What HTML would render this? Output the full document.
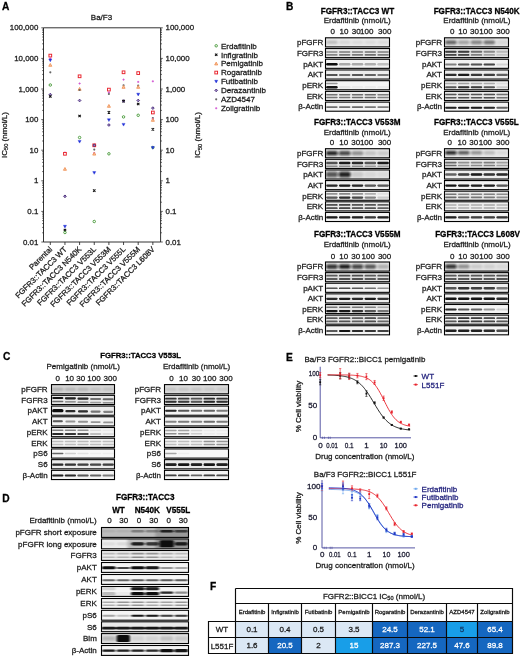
<!DOCTYPE html>
<html lang="en">
<head>
<meta charset="utf-8">
<title>Figure</title>
<style>
html,body{margin:0;padding:0;background:#fff;}
body{width:520px;height:657px;overflow:hidden;}
svg{display:block;font-family:"Liberation Sans",Arial,Helvetica,sans-serif;}
text{stroke-width:0.27px;}
</style>
</head>
<body>
<svg width="520" height="657" viewBox="0 0 520 657">
<defs>
<filter id="b1" x="-20%" y="-50%" width="140%" height="200%"><feGaussianBlur stdDeviation="0.75 0.5"/></filter>
<filter id="b2" x="-20%" y="-50%" width="140%" height="200%"><feGaussianBlur stdDeviation="1.3 0.9"/></filter>
<filter id="b15" x="-20%" y="-50%" width="140%" height="200%"><feGaussianBlur stdDeviation="1.0 0.65"/></filter>
<filter id="b3" x="-20%" y="-50%" width="140%" height="200%"><feGaussianBlur stdDeviation="1.4"/></filter>
<filter id="soft"><feGaussianBlur stdDeviation="0.25"/></filter>
</defs>
<rect x="0" y="0" width="520" height="657" fill="#ffffff"/>
<g id="panelA">
<text x="1.90" y="9.80" font-size="10.2" text-anchor="start" font-weight="bold" fill="#000" stroke="#000"  stroke-width="0.15">A</text>
<text x="101.50" y="19.60" font-size="8" text-anchor="middle" font-weight="normal" fill="#1a1a1a" stroke="#1a1a1a" >Ba/F3</text>
<path d="M43.5 242.0V27.8H160.6V242.0H43.5" fill="none" stroke="#1c1c1c" stroke-width="0.9"/>
<path d="M41.30 27.80H43.50M160.60 27.80H162.80M42.20 49.19H43.50M160.60 49.19H161.90M42.20 43.80H43.50M160.60 43.80H161.90M42.20 39.98H43.50M160.60 39.98H161.90M42.20 37.01H43.50M160.60 37.01H161.90M42.20 34.59H43.50M160.60 34.59H161.90M42.20 32.54H43.50M160.60 32.54H161.90M42.20 30.77H43.50M160.60 30.77H161.90M42.20 29.20H43.50M160.60 29.20H161.90M41.30 58.40H43.50M160.60 58.40H162.80M42.20 79.79H43.50M160.60 79.79H161.90M42.20 74.40H43.50M160.60 74.40H161.90M42.20 70.58H43.50M160.60 70.58H161.90M42.20 67.61H43.50M160.60 67.61H161.90M42.20 65.19H43.50M160.60 65.19H161.90M42.20 63.14H43.50M160.60 63.14H161.90M42.20 61.37H43.50M160.60 61.37H161.90M42.20 59.80H43.50M160.60 59.80H161.90M41.30 89.00H43.50M160.60 89.00H162.80M42.20 110.39H43.50M160.60 110.39H161.90M42.20 105.00H43.50M160.60 105.00H161.90M42.20 101.18H43.50M160.60 101.18H161.90M42.20 98.21H43.50M160.60 98.21H161.90M42.20 95.79H43.50M160.60 95.79H161.90M42.20 93.74H43.50M160.60 93.74H161.90M42.20 91.97H43.50M160.60 91.97H161.90M42.20 90.40H43.50M160.60 90.40H161.90M41.30 119.60H43.50M160.60 119.60H162.80M42.20 140.99H43.50M160.60 140.99H161.90M42.20 135.60H43.50M160.60 135.60H161.90M42.20 131.78H43.50M160.60 131.78H161.90M42.20 128.81H43.50M160.60 128.81H161.90M42.20 126.39H43.50M160.60 126.39H161.90M42.20 124.34H43.50M160.60 124.34H161.90M42.20 122.57H43.50M160.60 122.57H161.90M42.20 121.00H43.50M160.60 121.00H161.90M41.30 150.20H43.50M160.60 150.20H162.80M42.20 171.59H43.50M160.60 171.59H161.90M42.20 166.20H43.50M160.60 166.20H161.90M42.20 162.38H43.50M160.60 162.38H161.90M42.20 159.41H43.50M160.60 159.41H161.90M42.20 156.99H43.50M160.60 156.99H161.90M42.20 154.94H43.50M160.60 154.94H161.90M42.20 153.17H43.50M160.60 153.17H161.90M42.20 151.60H43.50M160.60 151.60H161.90M41.30 180.80H43.50M160.60 180.80H162.80M42.20 202.19H43.50M160.60 202.19H161.90M42.20 196.80H43.50M160.60 196.80H161.90M42.20 192.98H43.50M160.60 192.98H161.90M42.20 190.01H43.50M160.60 190.01H161.90M42.20 187.59H43.50M160.60 187.59H161.90M42.20 185.54H43.50M160.60 185.54H161.90M42.20 183.77H43.50M160.60 183.77H161.90M42.20 182.20H43.50M160.60 182.20H161.90M41.30 211.40H43.50M160.60 211.40H162.80M42.20 232.79H43.50M160.60 232.79H161.90M42.20 227.40H43.50M160.60 227.40H161.90M42.20 223.58H43.50M160.60 223.58H161.90M42.20 220.61H43.50M160.60 220.61H161.90M42.20 218.19H43.50M160.60 218.19H161.90M42.20 216.14H43.50M160.60 216.14H161.90M42.20 214.37H43.50M160.60 214.37H161.90M42.20 212.80H43.50M160.60 212.80H161.90M41.30 242.00H43.50M160.60 242.00H162.80" stroke="#1c1c1c" stroke-width="0.7" fill="none"/>
<text x="38.30" y="30.40" font-size="7.9" text-anchor="end" font-weight="normal" fill="#1a1a1a" stroke="#1a1a1a" >100,000</text>
<text x="165.50" y="30.40" font-size="7.9" text-anchor="start" font-weight="normal" fill="#1a1a1a" stroke="#1a1a1a" >100,000</text>
<text x="38.30" y="61.00" font-size="7.9" text-anchor="end" font-weight="normal" fill="#1a1a1a" stroke="#1a1a1a" >10,000</text>
<text x="165.50" y="61.00" font-size="7.9" text-anchor="start" font-weight="normal" fill="#1a1a1a" stroke="#1a1a1a" >10,000</text>
<text x="38.30" y="91.60" font-size="7.9" text-anchor="end" font-weight="normal" fill="#1a1a1a" stroke="#1a1a1a" >1,000</text>
<text x="165.50" y="91.60" font-size="7.9" text-anchor="start" font-weight="normal" fill="#1a1a1a" stroke="#1a1a1a" >1,000</text>
<text x="38.30" y="122.20" font-size="7.9" text-anchor="end" font-weight="normal" fill="#1a1a1a" stroke="#1a1a1a" >100</text>
<text x="165.50" y="122.20" font-size="7.9" text-anchor="start" font-weight="normal" fill="#1a1a1a" stroke="#1a1a1a" >100</text>
<text x="38.30" y="152.80" font-size="7.9" text-anchor="end" font-weight="normal" fill="#1a1a1a" stroke="#1a1a1a" >10</text>
<text x="165.50" y="152.80" font-size="7.9" text-anchor="start" font-weight="normal" fill="#1a1a1a" stroke="#1a1a1a" >10</text>
<text x="38.30" y="183.40" font-size="7.9" text-anchor="end" font-weight="normal" fill="#1a1a1a" stroke="#1a1a1a" >1</text>
<text x="165.50" y="183.40" font-size="7.9" text-anchor="start" font-weight="normal" fill="#1a1a1a" stroke="#1a1a1a" >1</text>
<text x="38.30" y="214.00" font-size="7.9" text-anchor="end" font-weight="normal" fill="#1a1a1a" stroke="#1a1a1a" >0.1</text>
<text x="165.50" y="214.00" font-size="7.9" text-anchor="start" font-weight="normal" fill="#1a1a1a" stroke="#1a1a1a" >0.1</text>
<text x="38.30" y="244.60" font-size="7.9" text-anchor="end" font-weight="normal" fill="#1a1a1a" stroke="#1a1a1a" >0.01</text>
<text x="165.50" y="244.60" font-size="7.9" text-anchor="start" font-weight="normal" fill="#1a1a1a" stroke="#1a1a1a" >0.01</text>
<text transform="translate(52.70 249.80) rotate(-45)" font-size="7.8" text-anchor="end" fill="#1a1a1a" stroke="#1a1a1a">Parental</text>
<text transform="translate(67.35 249.80) rotate(-45)" font-size="7.8" text-anchor="end" fill="#1a1a1a" stroke="#1a1a1a">FGFR3::TACC3 WT</text>
<text transform="translate(82.00 249.80) rotate(-45)" font-size="7.8" text-anchor="end" fill="#1a1a1a" stroke="#1a1a1a">FGFR3::TACC3 N540K</text>
<text transform="translate(96.65 249.80) rotate(-45)" font-size="7.8" text-anchor="end" fill="#1a1a1a" stroke="#1a1a1a">FGFR3::TACC3 V553L</text>
<text transform="translate(111.30 249.80) rotate(-45)" font-size="7.8" text-anchor="end" fill="#1a1a1a" stroke="#1a1a1a">FGFR3::TACC3 V553M</text>
<text transform="translate(125.95 249.80) rotate(-45)" font-size="7.8" text-anchor="end" fill="#1a1a1a" stroke="#1a1a1a">FGFR3::TACC3 V555L</text>
<text transform="translate(140.60 249.80) rotate(-45)" font-size="7.8" text-anchor="end" fill="#1a1a1a" stroke="#1a1a1a">FGFR3::TACC3 V555M</text>
<text transform="translate(155.25 249.80) rotate(-45)" font-size="7.8" text-anchor="end" fill="#1a1a1a" stroke="#1a1a1a">FGFR3::TACC3 L608V</text>
<path d="M50.30 242.0v3M64.95 242.0v3M79.60 242.0v3M94.25 242.0v3M108.90 242.0v3M123.55 242.0v3M138.20 242.0v3M152.85 242.0v3" stroke="#1c1c1c" stroke-width="0.8" fill="none"/>
<text transform="translate(6.7 135.0) rotate(-90)" font-size="8" text-anchor="middle" fill="#1a1a1a" stroke="#1a1a1a">IC<tspan font-size="5.6" dy="1.6">50</tspan><tspan dy="-1.6"> (nmol/L)</tspan></text>
<text transform="translate(200.1 135.1) rotate(-90)" font-size="8" text-anchor="middle" fill="#1a1a1a" stroke="#1a1a1a">IC<tspan font-size="5.6" dy="1.6">50</tspan><tspan dy="-1.6"> (nmol/L)</tspan></text>
<path d="M49.26 58.50H51.34M50.30 57.46V59.54" stroke="#d050d0" stroke-width="0.9" fill="none"/>
<rect x="48.94" y="54.24" width="2.72" height="2.72" fill="#fff" stroke="#e8202a" stroke-width="0.95"/>
<path d="M48.78 59.08H51.82L50.30 61.82Z" fill="#2030d8" stroke="#2030d8" stroke-width="0.4"/>
<path d="M50.30 63.48L51.82 66.29H48.78Z" fill="#f6c9a4" stroke="#f08a4b" stroke-width="0.8"/>
<circle cx="50.30" cy="72.30" r="1.08" fill="#666666"/>
<circle cx="50.30" cy="85.00" r="1.24" fill="none" stroke="#2e8b1e" stroke-width="0.8"/>
<path d="M50.30 93.24L51.66 94.60L50.30 95.96L48.94 94.60Z" fill="#9a86c0" stroke="#3a1a6e" stroke-width="0.8"/>
<path d="M49.10 95.30L51.50 97.70M49.10 97.70L51.50 95.30" stroke="#111111" stroke-width="1.1" fill="none"/>
<path d="M63.91 152.60H65.99M64.95 151.56V153.64" stroke="#d050d0" stroke-width="0.9" fill="none"/>
<rect x="63.59" y="152.44" width="2.72" height="2.72" fill="#fff" stroke="#e8202a" stroke-width="0.95"/>
<path d="M64.95 167.48L66.47 170.29H63.43Z" fill="#f6c9a4" stroke="#f08a4b" stroke-width="0.8"/>
<circle cx="64.95" cy="196.30" r="1.08" fill="#666666"/>
<path d="M64.95 194.94L66.31 196.30L64.95 197.66L63.59 196.30Z" fill="#9a86c0" stroke="#3a1a6e" stroke-width="0.8"/>
<path d="M63.43 225.28H66.47L64.95 228.02Z" fill="#2030d8" stroke="#2030d8" stroke-width="0.4"/>
<path d="M63.75 228.80L66.15 231.20M63.75 231.20L66.15 228.80" stroke="#111111" stroke-width="1.1" fill="none"/>
<circle cx="64.95" cy="232.50" r="1.24" fill="none" stroke="#2e8b1e" stroke-width="0.8"/>
<rect x="78.24" y="74.94" width="2.72" height="2.72" fill="#fff" stroke="#e8202a" stroke-width="0.95"/>
<path d="M78.56 83.50H80.64M79.60 82.46V84.54" stroke="#d050d0" stroke-width="0.9" fill="none"/>
<path d="M79.60 87.48L81.12 90.29H78.08Z" fill="#f6c9a4" stroke="#f08a4b" stroke-width="0.8"/>
<circle cx="79.60" cy="90.00" r="1.08" fill="#666666"/>
<path d="M79.60 99.14L80.96 100.50L79.60 101.86L78.24 100.50Z" fill="#9a86c0" stroke="#3a1a6e" stroke-width="0.8"/>
<path d="M78.40 114.80L80.80 117.20M78.40 117.20L80.80 114.80" stroke="#111111" stroke-width="1.1" fill="none"/>
<circle cx="79.60" cy="137.50" r="1.24" fill="none" stroke="#2e8b1e" stroke-width="0.8"/>
<path d="M78.08 140.38H81.12L79.60 143.12Z" fill="#2030d8" stroke="#2030d8" stroke-width="0.4"/>
<rect x="92.89" y="143.94" width="2.72" height="2.72" fill="#fff" stroke="#e8202a" stroke-width="0.95"/>
<circle cx="94.25" cy="149.60" r="1.08" fill="#666666"/>
<path d="M93.21 153.00H95.29M94.25 151.96V154.04" stroke="#d050d0" stroke-width="0.9" fill="none"/>
<path d="M94.25 152.28L95.77 155.09H92.73Z" fill="#f6c9a4" stroke="#f08a4b" stroke-width="0.8"/>
<path d="M94.25 143.94L95.61 145.30L94.25 146.66L92.89 145.30Z" fill="#9a86c0" stroke="#3a1a6e" stroke-width="0.8"/>
<path d="M92.73 171.58H95.77L94.25 174.32Z" fill="#2030d8" stroke="#2030d8" stroke-width="0.4"/>
<path d="M93.05 189.40L95.45 191.80M93.05 191.80L95.45 189.40" stroke="#111111" stroke-width="1.1" fill="none"/>
<circle cx="94.25" cy="221.50" r="1.24" fill="none" stroke="#2e8b1e" stroke-width="0.8"/>
<rect x="107.54" y="88.24" width="2.72" height="2.72" fill="#fff" stroke="#e8202a" stroke-width="0.95"/>
<path d="M107.86 92.50H109.94M108.90 91.46V93.54" stroke="#d050d0" stroke-width="0.9" fill="none"/>
<circle cx="108.90" cy="94.00" r="1.08" fill="#666666"/>
<path d="M108.90 104.48L110.42 107.29H107.38Z" fill="#f6c9a4" stroke="#f08a4b" stroke-width="0.8"/>
<path d="M107.70 111.10L110.10 113.50M107.70 113.50L110.10 111.10" stroke="#111111" stroke-width="1.1" fill="none"/>
<path d="M107.38 118.78H110.42L108.90 121.52Z" fill="#2030d8" stroke="#2030d8" stroke-width="0.4"/>
<path d="M108.90 123.64L110.26 125.00L108.90 126.36L107.54 125.00Z" fill="#9a86c0" stroke="#3a1a6e" stroke-width="0.8"/>
<circle cx="108.90" cy="153.80" r="1.24" fill="none" stroke="#2e8b1e" stroke-width="0.8"/>
<rect x="122.19" y="70.94" width="2.72" height="2.72" fill="#fff" stroke="#e8202a" stroke-width="0.95"/>
<path d="M122.51 79.60H124.59M123.55 78.56V80.64" stroke="#d050d0" stroke-width="0.9" fill="none"/>
<circle cx="123.55" cy="85.30" r="1.08" fill="#666666"/>
<path d="M123.55 85.48L125.07 88.29H122.03Z" fill="#f6c9a4" stroke="#f08a4b" stroke-width="0.8"/>
<path d="M123.55 99.64L124.91 101.00L123.55 102.36L122.19 101.00Z" fill="#9a86c0" stroke="#3a1a6e" stroke-width="0.8"/>
<path d="M122.35 100.00L124.75 102.40M122.35 102.40L124.75 100.00" stroke="#111111" stroke-width="1.1" fill="none"/>
<circle cx="123.55" cy="116.90" r="1.24" fill="none" stroke="#2e8b1e" stroke-width="0.8"/>
<path d="M122.03 123.38H125.07L123.55 126.12Z" fill="#2030d8" stroke="#2030d8" stroke-width="0.4"/>
<rect x="136.84" y="71.74" width="2.72" height="2.72" fill="#fff" stroke="#e8202a" stroke-width="0.95"/>
<path d="M137.16 81.90H139.24M138.20 80.86V82.94" stroke="#d050d0" stroke-width="0.9" fill="none"/>
<circle cx="138.20" cy="85.60" r="1.08" fill="#666666"/>
<path d="M138.20 85.48L139.72 88.29H136.68Z" fill="#f6c9a4" stroke="#f08a4b" stroke-width="0.8"/>
<path d="M136.68 93.18H139.72L138.20 95.92Z" fill="#2030d8" stroke="#2030d8" stroke-width="0.4"/>
<path d="M138.20 99.14L139.56 100.50L138.20 101.86L136.84 100.50Z" fill="#9a86c0" stroke="#3a1a6e" stroke-width="0.8"/>
<path d="M137.00 102.80L139.40 105.20M137.00 105.20L139.40 102.80" stroke="#111111" stroke-width="1.1" fill="none"/>
<circle cx="138.20" cy="115.30" r="1.24" fill="none" stroke="#2e8b1e" stroke-width="0.8"/>
<path d="M151.81 81.30H153.89M152.85 80.26V82.34" stroke="#d050d0" stroke-width="0.9" fill="none"/>
<path d="M152.85 106.74L154.21 108.10L152.85 109.46L151.49 108.10Z" fill="#9a86c0" stroke="#3a1a6e" stroke-width="0.8"/>
<rect x="151.49" y="111.14" width="2.72" height="2.72" fill="#fff" stroke="#e8202a" stroke-width="0.95"/>
<circle cx="152.85" cy="118.00" r="1.08" fill="#666666"/>
<path d="M151.81 119.00H153.89M152.85 117.96V120.04" stroke="#d050d0" stroke-width="0.9" fill="none"/>
<path d="M152.85 118.48L154.37 121.29H151.33Z" fill="#f6c9a4" stroke="#f08a4b" stroke-width="0.8"/>
<path d="M151.65 128.20L154.05 130.60M151.65 130.60L154.05 128.20" stroke="#111111" stroke-width="1.1" fill="none"/>
<circle cx="152.85" cy="147.50" r="1.24" fill="none" stroke="#2e8b1e" stroke-width="0.8"/>
<path d="M151.33 146.48H154.37L152.85 149.22Z" fill="#2030d8" stroke="#2030d8" stroke-width="0.4"/>
<circle cx="216.20" cy="45.80" r="1.24" fill="none" stroke="#2e8b1e" stroke-width="0.8"/>
<text x="220.90" y="48.60" font-size="8.05" text-anchor="start" font-weight="normal" fill="#1a1a1a" stroke="#1a1a1a" >Erdafitinib</text>
<path d="M215.00 53.52L217.40 55.92M215.00 55.92L217.40 53.52" stroke="#111111" stroke-width="1.1" fill="none"/>
<text x="220.90" y="57.52" font-size="8.05" text-anchor="start" font-weight="normal" fill="#1a1a1a" stroke="#1a1a1a" >Infigratinib</text>
<path d="M216.20 62.12L217.72 64.93H214.68Z" fill="#f6c9a4" stroke="#f08a4b" stroke-width="0.8"/>
<text x="220.90" y="66.44" font-size="8.05" text-anchor="start" font-weight="normal" fill="#1a1a1a" stroke="#1a1a1a" >Pemigatinib</text>
<rect x="214.84" y="71.20" width="2.72" height="2.72" fill="#fff" stroke="#e8202a" stroke-width="0.95"/>
<text x="220.90" y="75.36" font-size="8.05" text-anchor="start" font-weight="normal" fill="#1a1a1a" stroke="#1a1a1a" >Rogaratinib</text>
<path d="M214.68 80.26H217.72L216.20 83.00Z" fill="#2030d8" stroke="#2030d8" stroke-width="0.4"/>
<text x="220.90" y="84.28" font-size="8.05" text-anchor="start" font-weight="normal" fill="#1a1a1a" stroke="#1a1a1a" >Futibatinib</text>
<path d="M216.20 89.04L217.56 90.40L216.20 91.76L214.84 90.40Z" fill="#9a86c0" stroke="#3a1a6e" stroke-width="0.8"/>
<text x="220.90" y="93.20" font-size="8.05" text-anchor="start" font-weight="normal" fill="#1a1a1a" stroke="#1a1a1a" >Derazantinib</text>
<circle cx="216.20" cy="99.32" r="1.08" fill="#666666"/>
<text x="220.90" y="102.12" font-size="8.05" text-anchor="start" font-weight="normal" fill="#1a1a1a" stroke="#1a1a1a" >AZD4547</text>
<path d="M215.16 108.24H217.24M216.20 107.20V109.28" stroke="#d050d0" stroke-width="0.9" fill="none"/>
<text x="220.90" y="111.04" font-size="8.05" text-anchor="start" font-weight="normal" fill="#1a1a1a" stroke="#1a1a1a" >Zoligratinib</text>
</g>
<g id="panelB">
<text x="286.00" y="10.20" font-size="10.2" text-anchor="start" font-weight="bold" fill="#000" stroke="#000"  stroke-width="0.15">B</text>
<text x="357.50" y="14.10" font-size="8.15" text-anchor="middle" font-weight="bold" fill="#000" stroke="#000"  stroke-width="0.15">FGFR3::TACC3 WT</text>
<text x="357.20" y="23.20" font-size="8" text-anchor="middle" font-weight="normal" fill="#1a1a1a" stroke="#1a1a1a" >Erdafitinib (nmol/L)</text>
<text x="332.70" y="34.00" font-size="8" text-anchor="middle" font-weight="normal" fill="#1a1a1a" stroke="#1a1a1a" >0</text>
<text x="344.00" y="34.00" font-size="8" text-anchor="middle" font-weight="normal" fill="#1a1a1a" stroke="#1a1a1a" >10</text>
<text x="356.30" y="34.00" font-size="8" text-anchor="middle" font-weight="normal" fill="#1a1a1a" stroke="#1a1a1a" >30</text>
<text x="366.80" y="34.00" font-size="8" text-anchor="middle" font-weight="normal" fill="#1a1a1a" stroke="#1a1a1a" >100</text>
<text x="384.80" y="34.00" font-size="8" text-anchor="middle" font-weight="normal" fill="#1a1a1a" stroke="#1a1a1a" >300</text>
<svg x="325.50" y="37.80" width="64.00" height="9.10">
<rect x="0" y="0" width="64.00" height="9.10" fill="#eaeaea"/>
<g filter="url(#b2)" fill="#0a0a0a"><rect x="0.64" y="2.80" width="11.52" height="3.50" rx="1.60" opacity="0.20"/><rect x="13.44" y="2.80" width="11.52" height="3.50" rx="1.60" opacity="0.09"/><rect x="26.24" y="2.80" width="11.52" height="3.50" rx="1.60" opacity="0.07"/><rect x="39.04" y="2.80" width="11.52" height="3.50" rx="1.60" opacity="0.07"/><rect x="51.84" y="2.80" width="11.52" height="3.50" rx="1.60" opacity="0.07"/></g>
</svg>
<rect x="325.50" y="37.80" width="64.00" height="9.10" fill="none" stroke="#000" stroke-width="1.1"/>
<text x="323.20" y="45.15" font-size="8" text-anchor="end" font-weight="normal" fill="#1a1a1a" stroke="#1a1a1a" >pFGFR</text>
<svg x="325.50" y="48.52" width="64.00" height="9.10">
<rect x="0" y="0" width="64.00" height="9.10" fill="#e7e7e7"/>
<g filter="url(#b1)" fill="#0a0a0a"><rect x="0.64" y="2.66" width="11.52" height="1.60" rx="0.80" opacity="0.42"/><rect x="13.44" y="2.66" width="11.52" height="1.60" rx="0.80" opacity="0.47"/><rect x="26.24" y="2.66" width="11.52" height="1.60" rx="0.80" opacity="0.47"/><rect x="39.04" y="2.66" width="11.52" height="1.60" rx="0.80" opacity="0.51"/><rect x="51.84" y="2.66" width="11.52" height="1.60" rx="0.80" opacity="0.45"/><rect x="0.64" y="5.57" width="11.52" height="1.60" rx="0.80" opacity="0.42"/><rect x="13.44" y="5.57" width="11.52" height="1.60" rx="0.80" opacity="0.47"/><rect x="26.24" y="5.57" width="11.52" height="1.60" rx="0.80" opacity="0.47"/><rect x="39.04" y="5.57" width="11.52" height="1.60" rx="0.80" opacity="0.51"/><rect x="51.84" y="5.57" width="11.52" height="1.60" rx="0.80" opacity="0.45"/></g>
</svg>
<rect x="325.50" y="48.52" width="64.00" height="9.10" fill="none" stroke="#000" stroke-width="1.1"/>
<text x="323.20" y="55.87" font-size="8" text-anchor="end" font-weight="normal" fill="#1a1a1a" stroke="#1a1a1a" >FGFR3</text>
<svg x="325.50" y="59.24" width="64.00" height="9.10">
<rect x="0" y="0" width="64.00" height="9.10" fill="#f3f3f3"/>
<g filter="url(#b1)" fill="#0a0a0a"><rect x="0.64" y="3.80" width="11.52" height="2.40" rx="1.20" opacity="1.00"/><rect x="13.44" y="3.80" width="11.52" height="2.40" rx="1.20" opacity="0.30"/><rect x="26.24" y="3.80" width="11.52" height="2.40" rx="1.20" opacity="0.30"/><rect x="39.04" y="3.80" width="11.52" height="2.40" rx="1.20" opacity="0.28"/><rect x="51.84" y="3.80" width="11.52" height="2.40" rx="1.20" opacity="0.21"/></g>
</svg>
<rect x="325.50" y="59.24" width="64.00" height="9.10" fill="none" stroke="#000" stroke-width="1.1"/>
<text x="323.20" y="66.59" font-size="8" text-anchor="end" font-weight="normal" fill="#1a1a1a" stroke="#1a1a1a" >pAKT</text>
<svg x="325.50" y="69.96" width="64.00" height="9.10">
<rect x="0" y="0" width="64.00" height="9.10" fill="#ededed"/>
<g filter="url(#b1)" fill="#0a0a0a"><rect x="0.64" y="4.00" width="11.52" height="2.00" rx="1.00" opacity="0.70"/><rect x="13.44" y="4.00" width="11.52" height="2.00" rx="1.00" opacity="0.54"/><rect x="26.24" y="4.00" width="11.52" height="2.00" rx="1.00" opacity="0.64"/><rect x="39.04" y="4.00" width="11.52" height="2.00" rx="1.00" opacity="0.59"/><rect x="51.84" y="4.00" width="11.52" height="2.00" rx="1.00" opacity="0.49"/></g>
</svg>
<rect x="325.50" y="69.96" width="64.00" height="9.10" fill="none" stroke="#000" stroke-width="1.1"/>
<text x="323.20" y="77.31" font-size="8" text-anchor="end" font-weight="normal" fill="#1a1a1a" stroke="#1a1a1a" >AKT</text>
<svg x="325.50" y="80.68" width="64.00" height="9.10">
<rect x="0" y="0" width="64.00" height="9.10" fill="#f4f4f4"/>
<g filter="url(#b1)" fill="#0a0a0a"><rect x="0.64" y="1.98" width="11.52" height="1.50" rx="0.75" opacity="0.39"/><rect x="0.64" y="5.35" width="11.52" height="2.40" rx="1.20" opacity="0.97"/><rect x="13.44" y="5.35" width="11.52" height="2.40" rx="1.20" opacity="0.06"/><rect x="26.24" y="5.35" width="11.52" height="2.40" rx="1.20" opacity="0.04"/><rect x="39.04" y="5.35" width="11.52" height="2.40" rx="1.20" opacity="0.04"/><rect x="51.84" y="5.35" width="11.52" height="2.40" rx="1.20" opacity="0.04"/></g>
</svg>
<rect x="325.50" y="80.68" width="64.00" height="9.10" fill="none" stroke="#000" stroke-width="1.1"/>
<text x="323.20" y="88.03" font-size="8" text-anchor="end" font-weight="normal" fill="#1a1a1a" stroke="#1a1a1a" >pERK</text>
<svg x="325.50" y="91.40" width="64.00" height="9.10">
<rect x="0" y="0" width="64.00" height="9.10" fill="#ececec"/>
<g filter="url(#b1)" fill="#0a0a0a"><rect x="0.64" y="2.53" width="11.52" height="1.50" rx="0.75" opacity="0.51"/><rect x="13.44" y="2.53" width="11.52" height="1.50" rx="0.75" opacity="0.51"/><rect x="26.24" y="2.53" width="11.52" height="1.50" rx="0.75" opacity="0.54"/><rect x="39.04" y="2.53" width="11.52" height="1.50" rx="0.75" opacity="0.54"/><rect x="51.84" y="2.53" width="11.52" height="1.50" rx="0.75" opacity="0.47"/><rect x="0.64" y="5.44" width="11.52" height="1.50" rx="0.75" opacity="0.51"/><rect x="13.44" y="5.44" width="11.52" height="1.50" rx="0.75" opacity="0.51"/><rect x="26.24" y="5.44" width="11.52" height="1.50" rx="0.75" opacity="0.54"/><rect x="39.04" y="5.44" width="11.52" height="1.50" rx="0.75" opacity="0.54"/><rect x="51.84" y="5.44" width="11.52" height="1.50" rx="0.75" opacity="0.47"/></g>
</svg>
<rect x="325.50" y="91.40" width="64.00" height="9.10" fill="none" stroke="#000" stroke-width="1.1"/>
<text x="323.20" y="98.75" font-size="8" text-anchor="end" font-weight="normal" fill="#1a1a1a" stroke="#1a1a1a" >ERK</text>
<svg x="325.50" y="102.12" width="64.00" height="9.10">
<rect x="0" y="0" width="64.00" height="9.10" fill="#f3f3f3"/>
<g filter="url(#b1)" fill="#0a0a0a"><rect x="0.64" y="4.10" width="11.52" height="1.80" rx="0.90" opacity="0.54"/><rect x="13.44" y="4.10" width="11.52" height="1.80" rx="0.90" opacity="0.54"/><rect x="26.24" y="4.10" width="11.52" height="1.80" rx="0.90" opacity="0.57"/><rect x="39.04" y="4.10" width="11.52" height="1.80" rx="0.90" opacity="0.51"/><rect x="51.84" y="4.10" width="11.52" height="1.80" rx="0.90" opacity="0.49"/></g>
</svg>
<rect x="325.50" y="102.12" width="64.00" height="9.10" fill="none" stroke="#000" stroke-width="1.1"/>
<text x="323.20" y="109.47" font-size="8" text-anchor="end" font-weight="normal" fill="#1a1a1a" stroke="#1a1a1a" >β-Actin</text>
<text x="476.70" y="14.10" font-size="8.15" text-anchor="middle" font-weight="bold" fill="#000" stroke="#000"  stroke-width="0.15">FGFR3::TACC3 N540K</text>
<text x="476.90" y="23.20" font-size="8" text-anchor="middle" font-weight="normal" fill="#1a1a1a" stroke="#1a1a1a" >Erdafitinib (nmol/L)</text>
<text x="452.30" y="34.00" font-size="8" text-anchor="middle" font-weight="normal" fill="#1a1a1a" stroke="#1a1a1a" >0</text>
<text x="462.70" y="34.00" font-size="8" text-anchor="middle" font-weight="normal" fill="#1a1a1a" stroke="#1a1a1a" >10</text>
<text x="474.40" y="34.00" font-size="8" text-anchor="middle" font-weight="normal" fill="#1a1a1a" stroke="#1a1a1a" >30</text>
<text x="486.00" y="34.00" font-size="8" text-anchor="middle" font-weight="normal" fill="#1a1a1a" stroke="#1a1a1a" >100</text>
<text x="503.00" y="34.00" font-size="8" text-anchor="middle" font-weight="normal" fill="#1a1a1a" stroke="#1a1a1a" >300</text>
<svg x="444.50" y="37.80" width="64.00" height="9.10">
<rect x="0" y="0" width="64.00" height="9.10" fill="#e4e4e4"/>
<g filter="url(#b2)" fill="#0a0a0a"><rect x="0.64" y="2.75" width="11.52" height="3.60" rx="1.60" opacity="0.59"/><rect x="13.44" y="2.75" width="11.52" height="3.60" rx="1.60" opacity="0.30"/><rect x="26.24" y="2.75" width="11.52" height="3.60" rx="1.60" opacity="0.44"/><rect x="39.04" y="2.75" width="11.52" height="3.60" rx="1.60" opacity="0.51"/><rect x="51.84" y="2.75" width="11.52" height="3.60" rx="1.60" opacity="0.07"/></g>
</svg>
<rect x="444.50" y="37.80" width="64.00" height="9.10" fill="none" stroke="#000" stroke-width="1.1"/>
<text x="442.00" y="45.15" font-size="8" text-anchor="end" font-weight="normal" fill="#1a1a1a" stroke="#1a1a1a" >pFGFR</text>
<svg x="444.50" y="48.52" width="64.00" height="9.10">
<rect x="0" y="0" width="64.00" height="9.10" fill="#e1e1e1"/>
<g filter="url(#b1)" fill="#0a0a0a"><rect x="0.64" y="2.33" width="11.52" height="1.90" rx="0.95" opacity="0.78"/><rect x="13.44" y="2.33" width="11.52" height="1.90" rx="0.95" opacity="0.78"/><rect x="26.24" y="2.33" width="11.52" height="1.90" rx="0.95" opacity="0.51"/><rect x="39.04" y="2.33" width="11.52" height="1.90" rx="0.95" opacity="0.39"/><rect x="51.84" y="2.33" width="11.52" height="1.90" rx="0.95" opacity="0.18"/><rect x="0.64" y="5.42" width="11.52" height="1.90" rx="0.95" opacity="0.73"/><rect x="13.44" y="5.42" width="11.52" height="1.90" rx="0.95" opacity="0.73"/><rect x="26.24" y="5.42" width="11.52" height="1.90" rx="0.95" opacity="0.44"/><rect x="39.04" y="5.42" width="11.52" height="1.90" rx="0.95" opacity="0.28"/><rect x="51.84" y="5.42" width="11.52" height="1.90" rx="0.95" opacity="0.13"/></g>
</svg>
<rect x="444.50" y="48.52" width="64.00" height="9.10" fill="none" stroke="#000" stroke-width="1.1"/>
<text x="442.00" y="55.87" font-size="8" text-anchor="end" font-weight="normal" fill="#1a1a1a" stroke="#1a1a1a" >FGFR3</text>
<svg x="444.50" y="59.24" width="64.00" height="9.10">
<rect x="0" y="0" width="64.00" height="9.10" fill="#f3f3f3"/>
<g filter="url(#b1)" fill="#0a0a0a"><rect x="0.64" y="4.28" width="11.52" height="2.00" rx="1.00" opacity="0.47"/><rect x="13.44" y="4.28" width="11.52" height="2.00" rx="1.00" opacity="0.67"/><rect x="26.24" y="4.28" width="11.52" height="2.00" rx="1.00" opacity="0.70"/><rect x="39.04" y="4.28" width="11.52" height="2.00" rx="1.00" opacity="0.76"/><rect x="51.84" y="4.28" width="11.52" height="2.00" rx="1.00" opacity="0.13"/></g>
</svg>
<rect x="444.50" y="59.24" width="64.00" height="9.10" fill="none" stroke="#000" stroke-width="1.1"/>
<text x="442.00" y="66.59" font-size="8" text-anchor="end" font-weight="normal" fill="#1a1a1a" stroke="#1a1a1a" >pAKT</text>
<svg x="444.50" y="69.96" width="64.00" height="9.10">
<rect x="0" y="0" width="64.00" height="9.10" fill="#ececec"/>
<g filter="url(#b1)" fill="#0a0a0a"><rect x="0.64" y="3.90" width="11.52" height="2.20" rx="1.10" opacity="0.87"/><rect x="13.44" y="3.90" width="11.52" height="2.20" rx="1.10" opacity="0.94"/><rect x="26.24" y="3.90" width="11.52" height="2.20" rx="1.10" opacity="0.82"/><rect x="39.04" y="3.90" width="11.52" height="2.20" rx="1.10" opacity="0.79"/><rect x="51.84" y="3.90" width="11.52" height="2.20" rx="1.10" opacity="0.59"/></g>
</svg>
<rect x="444.50" y="69.96" width="64.00" height="9.10" fill="none" stroke="#000" stroke-width="1.1"/>
<text x="442.00" y="77.31" font-size="8" text-anchor="end" font-weight="normal" fill="#1a1a1a" stroke="#1a1a1a" >AKT</text>
<svg x="444.50" y="80.68" width="64.00" height="9.10">
<rect x="0" y="0" width="64.00" height="9.10" fill="#ededed"/>
<g filter="url(#b1)" fill="#0a0a0a"><rect x="0.64" y="1.98" width="11.52" height="1.50" rx="0.75" opacity="0.28"/><rect x="13.44" y="1.98" width="11.52" height="1.50" rx="0.75" opacity="0.33"/><rect x="26.24" y="1.98" width="11.52" height="1.50" rx="0.75" opacity="0.28"/><rect x="39.04" y="1.98" width="11.52" height="1.50" rx="0.75" opacity="0.28"/><rect x="51.84" y="1.98" width="11.52" height="1.50" rx="0.75" opacity="0.07"/><rect x="0.64" y="5.45" width="11.52" height="2.20" rx="1.10" opacity="0.64"/><rect x="13.44" y="5.45" width="11.52" height="2.20" rx="1.10" opacity="0.85"/><rect x="26.24" y="5.45" width="11.52" height="2.20" rx="1.10" opacity="0.79"/><rect x="39.04" y="5.45" width="11.52" height="2.20" rx="1.10" opacity="0.64"/><rect x="51.84" y="5.45" width="11.52" height="2.20" rx="1.10" opacity="0.16"/></g>
</svg>
<rect x="444.50" y="80.68" width="64.00" height="9.10" fill="none" stroke="#000" stroke-width="1.1"/>
<text x="442.00" y="88.03" font-size="8" text-anchor="end" font-weight="normal" fill="#1a1a1a" stroke="#1a1a1a" >pERK</text>
<svg x="444.50" y="91.40" width="64.00" height="9.10">
<rect x="0" y="0" width="64.00" height="9.10" fill="#e7e7e7"/>
<g filter="url(#b1)" fill="#0a0a0a"><rect x="0.64" y="2.29" width="11.52" height="1.60" rx="0.80" opacity="0.68"/><rect x="13.44" y="2.29" width="11.52" height="1.60" rx="0.80" opacity="0.64"/><rect x="26.24" y="2.29" width="11.52" height="1.60" rx="0.80" opacity="0.64"/><rect x="39.04" y="2.29" width="11.52" height="1.60" rx="0.80" opacity="0.70"/><rect x="51.84" y="2.29" width="11.52" height="1.60" rx="0.80" opacity="0.51"/><rect x="0.64" y="5.57" width="11.52" height="1.60" rx="0.80" opacity="0.68"/><rect x="13.44" y="5.57" width="11.52" height="1.60" rx="0.80" opacity="0.64"/><rect x="26.24" y="5.57" width="11.52" height="1.60" rx="0.80" opacity="0.64"/><rect x="39.04" y="5.57" width="11.52" height="1.60" rx="0.80" opacity="0.70"/><rect x="51.84" y="5.57" width="11.52" height="1.60" rx="0.80" opacity="0.51"/></g>
</svg>
<rect x="444.50" y="91.40" width="64.00" height="9.10" fill="none" stroke="#000" stroke-width="1.1"/>
<text x="442.00" y="98.75" font-size="8" text-anchor="end" font-weight="normal" fill="#1a1a1a" stroke="#1a1a1a" >ERK</text>
<svg x="444.50" y="102.12" width="64.00" height="9.10">
<rect x="0" y="0" width="64.00" height="9.10" fill="#f3f3f3"/>
<g filter="url(#b1)" fill="#0a0a0a"><rect x="0.64" y="4.54" width="11.52" height="2.20" rx="1.10" opacity="0.91"/><rect x="13.44" y="4.54" width="11.52" height="2.20" rx="1.10" opacity="0.94"/><rect x="26.24" y="4.54" width="11.52" height="2.20" rx="1.10" opacity="0.94"/><rect x="39.04" y="4.54" width="11.52" height="2.20" rx="1.10" opacity="0.88"/><rect x="51.84" y="4.54" width="11.52" height="2.20" rx="1.10" opacity="0.59"/></g>
</svg>
<rect x="444.50" y="102.12" width="64.00" height="9.10" fill="none" stroke="#000" stroke-width="1.1"/>
<text x="442.00" y="109.47" font-size="8" text-anchor="end" font-weight="normal" fill="#1a1a1a" stroke="#1a1a1a" >β-Actin</text>
<text x="357.20" y="125.20" font-size="8.15" text-anchor="middle" font-weight="bold" fill="#000" stroke="#000"  stroke-width="0.15">FGFR3::TACC3 V553M</text>
<text x="357.20" y="134.80" font-size="8" text-anchor="middle" font-weight="normal" fill="#1a1a1a" stroke="#1a1a1a" >Erdafitinib (nmol/L)</text>
<text x="332.00" y="144.90" font-size="8" text-anchor="middle" font-weight="normal" fill="#1a1a1a" stroke="#1a1a1a" >0</text>
<text x="343.80" y="144.90" font-size="8" text-anchor="middle" font-weight="normal" fill="#1a1a1a" stroke="#1a1a1a" >10</text>
<text x="355.80" y="144.90" font-size="8" text-anchor="middle" font-weight="normal" fill="#1a1a1a" stroke="#1a1a1a" >30</text>
<text x="366.60" y="144.90" font-size="8" text-anchor="middle" font-weight="normal" fill="#1a1a1a" stroke="#1a1a1a" >100</text>
<text x="384.60" y="144.90" font-size="8" text-anchor="middle" font-weight="normal" fill="#1a1a1a" stroke="#1a1a1a" >300</text>
<svg x="325.50" y="148.70" width="64.00" height="9.10">
<rect x="0" y="0" width="64.00" height="9.10" fill="#e6e6e6"/>
<g filter="url(#b2)" fill="#0a0a0a"><rect x="0.64" y="2.45" width="11.52" height="4.20" rx="1.60" opacity="0.94"/><rect x="13.44" y="2.45" width="11.52" height="4.20" rx="1.60" opacity="0.78"/><rect x="26.24" y="2.45" width="11.52" height="4.20" rx="1.60" opacity="0.39"/><rect x="39.04" y="2.45" width="11.52" height="4.20" rx="1.60" opacity="0.16"/><rect x="51.84" y="2.45" width="11.52" height="4.20" rx="1.60" opacity="0.13"/></g>
</svg>
<rect x="325.50" y="148.70" width="64.00" height="9.10" fill="none" stroke="#000" stroke-width="1.1"/>
<text x="323.20" y="156.05" font-size="8" text-anchor="end" font-weight="normal" fill="#1a1a1a" stroke="#1a1a1a" >pFGFR</text>
<svg x="325.50" y="159.32" width="64.00" height="9.10">
<rect x="0" y="0" width="64.00" height="9.10" fill="#e4e4e4"/>
<g filter="url(#b1)" fill="#0a0a0a"><rect x="0.64" y="2.44" width="11.52" height="2.40" rx="1.20" opacity="0.64"/><rect x="13.44" y="2.44" width="11.52" height="2.40" rx="1.20" opacity="0.94"/><rect x="26.24" y="2.44" width="11.52" height="2.40" rx="1.20" opacity="0.87"/><rect x="39.04" y="2.44" width="11.52" height="2.40" rx="1.20" opacity="0.68"/><rect x="51.84" y="2.44" width="11.52" height="2.40" rx="1.20" opacity="0.94"/><rect x="0.64" y="6.27" width="11.52" height="1.30" rx="0.65" opacity="0.39"/><rect x="13.44" y="6.27" width="11.52" height="1.30" rx="0.65" opacity="0.39"/><rect x="26.24" y="6.27" width="11.52" height="1.30" rx="0.65" opacity="0.39"/><rect x="39.04" y="6.27" width="11.52" height="1.30" rx="0.65" opacity="0.33"/><rect x="51.84" y="6.27" width="11.52" height="1.30" rx="0.65" opacity="0.33"/></g>
</svg>
<rect x="325.50" y="159.32" width="64.00" height="9.10" fill="none" stroke="#000" stroke-width="1.1"/>
<text x="323.20" y="166.67" font-size="8" text-anchor="end" font-weight="normal" fill="#1a1a1a" stroke="#1a1a1a" >FGFR3</text>
<svg x="325.50" y="169.94" width="64.00" height="9.10">
<rect x="0" y="0" width="64.00" height="9.10" fill="#e7e7e7"/>
<g filter="url(#b2)" fill="#0a0a0a"><rect x="0.64" y="1.80" width="11.52" height="5.50" rx="1.60" opacity="0.68"/><rect x="13.44" y="1.80" width="11.52" height="5.50" rx="1.60" opacity="0.91"/><rect x="26.24" y="1.80" width="11.52" height="5.50" rx="1.60" opacity="0.13"/><rect x="39.04" y="1.80" width="11.52" height="5.50" rx="1.60" opacity="0.07"/><rect x="51.84" y="1.80" width="11.52" height="5.50" rx="1.60" opacity="0.06"/></g>
</svg>
<rect x="325.50" y="169.94" width="64.00" height="9.10" fill="none" stroke="#000" stroke-width="1.1"/>
<text x="323.20" y="177.29" font-size="8" text-anchor="end" font-weight="normal" fill="#1a1a1a" stroke="#1a1a1a" >pAKT</text>
<svg x="325.50" y="180.56" width="64.00" height="9.10">
<rect x="0" y="0" width="64.00" height="9.10" fill="#eeeeee"/>
<g filter="url(#b1)" fill="#0a0a0a"><rect x="0.64" y="3.90" width="11.52" height="2.20" rx="1.10" opacity="0.88"/><rect x="13.44" y="3.90" width="11.52" height="2.20" rx="1.10" opacity="0.94"/><rect x="26.24" y="3.90" width="11.52" height="2.20" rx="1.10" opacity="0.88"/><rect x="39.04" y="3.90" width="11.52" height="2.20" rx="1.10" opacity="0.68"/><rect x="51.84" y="3.90" width="11.52" height="2.20" rx="1.10" opacity="0.68"/></g>
</svg>
<rect x="325.50" y="180.56" width="64.00" height="9.10" fill="none" stroke="#000" stroke-width="1.1"/>
<text x="323.20" y="187.91" font-size="8" text-anchor="end" font-weight="normal" fill="#1a1a1a" stroke="#1a1a1a" >AKT</text>
<svg x="325.50" y="191.18" width="64.00" height="9.10">
<rect x="0" y="0" width="64.00" height="9.10" fill="#f1f1f1"/>
<g filter="url(#b1)" fill="#0a0a0a"><rect x="0.64" y="1.93" width="11.52" height="1.60" rx="0.80" opacity="0.39"/><rect x="13.44" y="1.93" width="11.52" height="1.60" rx="0.80" opacity="0.44"/><rect x="26.24" y="1.93" width="11.52" height="1.60" rx="0.80" opacity="0.39"/><rect x="39.04" y="1.93" width="11.52" height="1.60" rx="0.80" opacity="0.28"/><rect x="51.84" y="1.93" width="11.52" height="1.60" rx="0.80" opacity="0.07"/><rect x="0.64" y="5.27" width="11.52" height="2.20" rx="1.10" opacity="0.68"/><rect x="13.44" y="5.27" width="11.52" height="2.20" rx="1.10" opacity="0.85"/><rect x="26.24" y="5.27" width="11.52" height="2.20" rx="1.10" opacity="0.74"/><rect x="39.04" y="5.27" width="11.52" height="2.20" rx="1.10" opacity="0.45"/><rect x="51.84" y="5.27" width="11.52" height="2.20" rx="1.10" opacity="0.16"/></g>
</svg>
<rect x="325.50" y="191.18" width="64.00" height="9.10" fill="none" stroke="#000" stroke-width="1.1"/>
<text x="323.20" y="198.53" font-size="8" text-anchor="end" font-weight="normal" fill="#1a1a1a" stroke="#1a1a1a" >pERK</text>
<svg x="325.50" y="201.80" width="64.00" height="9.10">
<rect x="0" y="0" width="64.00" height="9.10" fill="#eaeaea"/>
<g filter="url(#b1)" fill="#0a0a0a"><rect x="0.64" y="2.24" width="11.52" height="1.70" rx="0.85" opacity="0.70"/><rect x="13.44" y="2.24" width="11.52" height="1.70" rx="0.85" opacity="0.74"/><rect x="26.24" y="2.24" width="11.52" height="1.70" rx="0.85" opacity="0.68"/><rect x="39.04" y="2.24" width="11.52" height="1.70" rx="0.85" opacity="0.64"/><rect x="51.84" y="2.24" width="11.52" height="1.70" rx="0.85" opacity="0.59"/><rect x="0.64" y="5.52" width="11.52" height="1.70" rx="0.85" opacity="0.70"/><rect x="13.44" y="5.52" width="11.52" height="1.70" rx="0.85" opacity="0.74"/><rect x="26.24" y="5.52" width="11.52" height="1.70" rx="0.85" opacity="0.68"/><rect x="39.04" y="5.52" width="11.52" height="1.70" rx="0.85" opacity="0.64"/><rect x="51.84" y="5.52" width="11.52" height="1.70" rx="0.85" opacity="0.59"/></g>
</svg>
<rect x="325.50" y="201.80" width="64.00" height="9.10" fill="none" stroke="#000" stroke-width="1.1"/>
<text x="323.20" y="209.15" font-size="8" text-anchor="end" font-weight="normal" fill="#1a1a1a" stroke="#1a1a1a" >ERK</text>
<svg x="325.50" y="212.42" width="64.00" height="9.10">
<rect x="0" y="0" width="64.00" height="9.10" fill="#f4f4f4"/>
<g filter="url(#b1)" fill="#0a0a0a"><rect x="0.64" y="3.90" width="11.52" height="2.20" rx="1.10" opacity="0.95"/><rect x="13.44" y="3.90" width="11.52" height="2.20" rx="1.10" opacity="0.92"/><rect x="26.24" y="3.90" width="11.52" height="2.20" rx="1.10" opacity="0.92"/><rect x="39.04" y="3.90" width="11.52" height="2.20" rx="1.10" opacity="0.82"/><rect x="51.84" y="3.90" width="11.52" height="2.20" rx="1.10" opacity="0.92"/></g>
</svg>
<rect x="325.50" y="212.42" width="64.00" height="9.10" fill="none" stroke="#000" stroke-width="1.1"/>
<text x="323.20" y="219.77" font-size="8" text-anchor="end" font-weight="normal" fill="#1a1a1a" stroke="#1a1a1a" >β-Actin</text>
<text x="476.30" y="125.20" font-size="8.15" text-anchor="middle" font-weight="bold" fill="#000" stroke="#000"  stroke-width="0.15">FGFR3::TACC3 V555L</text>
<text x="476.70" y="134.80" font-size="8" text-anchor="middle" font-weight="normal" fill="#1a1a1a" stroke="#1a1a1a" >Erdafitinib (nmol/L)</text>
<text x="449.80" y="144.90" font-size="8" text-anchor="middle" font-weight="normal" fill="#1a1a1a" stroke="#1a1a1a" >0</text>
<text x="461.90" y="144.90" font-size="8" text-anchor="middle" font-weight="normal" fill="#1a1a1a" stroke="#1a1a1a" >10</text>
<text x="473.80" y="144.90" font-size="8" text-anchor="middle" font-weight="normal" fill="#1a1a1a" stroke="#1a1a1a" >30</text>
<text x="485.40" y="144.90" font-size="8" text-anchor="middle" font-weight="normal" fill="#1a1a1a" stroke="#1a1a1a" >100</text>
<text x="502.70" y="144.90" font-size="8" text-anchor="middle" font-weight="normal" fill="#1a1a1a" stroke="#1a1a1a" >300</text>
<svg x="444.50" y="148.70" width="64.00" height="9.10">
<rect x="0" y="0" width="64.00" height="9.10" fill="#e9e9e9"/>
<g filter="url(#b2)" fill="#0a0a0a"><rect x="0.64" y="2.29" width="11.52" height="3.60" rx="1.60" opacity="0.94"/><rect x="13.44" y="2.29" width="11.52" height="3.60" rx="1.60" opacity="0.64"/><rect x="26.24" y="2.29" width="11.52" height="3.60" rx="1.60" opacity="0.39"/><rect x="39.04" y="2.29" width="11.52" height="3.60" rx="1.60" opacity="0.21"/><rect x="51.84" y="2.29" width="11.52" height="3.60" rx="1.60" opacity="0.07"/></g>
</svg>
<rect x="444.50" y="148.70" width="64.00" height="9.10" fill="none" stroke="#000" stroke-width="1.1"/>
<text x="442.00" y="156.05" font-size="8" text-anchor="end" font-weight="normal" fill="#1a1a1a" stroke="#1a1a1a" >pFGFR</text>
<svg x="444.50" y="159.32" width="64.00" height="9.10">
<rect x="0" y="0" width="64.00" height="9.10" fill="#e4e4e4"/>
<g filter="url(#b1)" fill="#0a0a0a"><rect x="0.64" y="2.43" width="11.52" height="1.70" rx="0.85" opacity="0.54"/><rect x="13.44" y="2.43" width="11.52" height="1.70" rx="0.85" opacity="0.37"/><rect x="26.24" y="2.43" width="11.52" height="1.70" rx="0.85" opacity="0.39"/><rect x="39.04" y="2.43" width="11.52" height="1.70" rx="0.85" opacity="0.44"/><rect x="51.84" y="2.43" width="11.52" height="1.70" rx="0.85" opacity="0.30"/><rect x="0.64" y="5.34" width="11.52" height="1.70" rx="0.85" opacity="0.54"/><rect x="13.44" y="5.34" width="11.52" height="1.70" rx="0.85" opacity="0.37"/><rect x="26.24" y="5.34" width="11.52" height="1.70" rx="0.85" opacity="0.39"/><rect x="39.04" y="5.34" width="11.52" height="1.70" rx="0.85" opacity="0.44"/><rect x="51.84" y="5.34" width="11.52" height="1.70" rx="0.85" opacity="0.30"/></g>
</svg>
<rect x="444.50" y="159.32" width="64.00" height="9.10" fill="none" stroke="#000" stroke-width="1.1"/>
<text x="442.00" y="166.67" font-size="8" text-anchor="end" font-weight="normal" fill="#1a1a1a" stroke="#1a1a1a" >FGFR3</text>
<svg x="444.50" y="169.94" width="64.00" height="9.10">
<rect x="0" y="0" width="64.00" height="9.10" fill="#eeeeee"/>
<g filter="url(#b1)" fill="#0a0a0a"><rect x="0.64" y="3.35" width="11.52" height="2.40" rx="1.20" opacity="0.59"/><rect x="13.44" y="3.35" width="11.52" height="2.40" rx="1.20" opacity="0.78"/><rect x="26.24" y="3.35" width="11.52" height="2.40" rx="1.20" opacity="0.94"/><rect x="39.04" y="3.35" width="11.52" height="2.40" rx="1.20" opacity="0.83"/><rect x="51.84" y="3.35" width="11.52" height="2.40" rx="1.20" opacity="0.88"/></g>
</svg>
<rect x="444.50" y="169.94" width="64.00" height="9.10" fill="none" stroke="#000" stroke-width="1.1"/>
<text x="442.00" y="177.29" font-size="8" text-anchor="end" font-weight="normal" fill="#1a1a1a" stroke="#1a1a1a" >pAKT</text>
<svg x="444.50" y="180.56" width="64.00" height="9.10">
<rect x="0" y="0" width="64.00" height="9.10" fill="#f3f3f3"/>
<g filter="url(#b1)" fill="#0a0a0a"><rect x="0.64" y="3.85" width="11.52" height="2.30" rx="1.15" opacity="0.97"/><rect x="13.44" y="3.85" width="11.52" height="2.30" rx="1.15" opacity="0.92"/><rect x="26.24" y="3.85" width="11.52" height="2.30" rx="1.15" opacity="0.92"/><rect x="39.04" y="3.85" width="11.52" height="2.30" rx="1.15" opacity="0.92"/><rect x="51.84" y="3.85" width="11.52" height="2.30" rx="1.15" opacity="0.68"/></g>
</svg>
<rect x="444.50" y="180.56" width="64.00" height="9.10" fill="none" stroke="#000" stroke-width="1.1"/>
<text x="442.00" y="187.91" font-size="8" text-anchor="end" font-weight="normal" fill="#1a1a1a" stroke="#1a1a1a" >AKT</text>
<svg x="444.50" y="191.18" width="64.00" height="9.10">
<rect x="0" y="0" width="64.00" height="9.10" fill="#e7e7e7"/>
<g filter="url(#b1)" fill="#0a0a0a"><rect x="0.64" y="2.29" width="11.52" height="1.60" rx="0.80" opacity="0.49"/><rect x="13.44" y="2.29" width="11.52" height="1.60" rx="0.80" opacity="0.41"/><rect x="26.24" y="2.29" width="11.52" height="1.60" rx="0.80" opacity="0.44"/><rect x="39.04" y="2.29" width="11.52" height="1.60" rx="0.80" opacity="0.44"/><rect x="51.84" y="2.29" width="11.52" height="1.60" rx="0.80" opacity="0.39"/><rect x="0.64" y="5.39" width="11.52" height="1.60" rx="0.80" opacity="0.54"/><rect x="13.44" y="5.39" width="11.52" height="1.60" rx="0.80" opacity="0.49"/><rect x="26.24" y="5.39" width="11.52" height="1.60" rx="0.80" opacity="0.49"/><rect x="39.04" y="5.39" width="11.52" height="1.60" rx="0.80" opacity="0.47"/><rect x="51.84" y="5.39" width="11.52" height="1.60" rx="0.80" opacity="0.39"/></g>
</svg>
<rect x="444.50" y="191.18" width="64.00" height="9.10" fill="none" stroke="#000" stroke-width="1.1"/>
<text x="442.00" y="198.53" font-size="8" text-anchor="end" font-weight="normal" fill="#1a1a1a" stroke="#1a1a1a" >pERK</text>
<svg x="444.50" y="201.80" width="64.00" height="9.10">
<rect x="0" y="0" width="64.00" height="9.10" fill="#eeeeee"/>
<g filter="url(#b1)" fill="#0a0a0a"><rect x="0.64" y="2.34" width="11.52" height="1.50" rx="0.75" opacity="0.28"/><rect x="13.44" y="2.34" width="11.52" height="1.50" rx="0.75" opacity="0.28"/><rect x="26.24" y="2.34" width="11.52" height="1.50" rx="0.75" opacity="0.28"/><rect x="39.04" y="2.34" width="11.52" height="1.50" rx="0.75" opacity="0.30"/><rect x="51.84" y="2.34" width="11.52" height="1.50" rx="0.75" opacity="0.25"/><rect x="0.64" y="5.44" width="11.52" height="1.50" rx="0.75" opacity="0.28"/><rect x="13.44" y="5.44" width="11.52" height="1.50" rx="0.75" opacity="0.28"/><rect x="26.24" y="5.44" width="11.52" height="1.50" rx="0.75" opacity="0.28"/><rect x="39.04" y="5.44" width="11.52" height="1.50" rx="0.75" opacity="0.30"/><rect x="51.84" y="5.44" width="11.52" height="1.50" rx="0.75" opacity="0.25"/></g>
</svg>
<rect x="444.50" y="201.80" width="64.00" height="9.10" fill="none" stroke="#000" stroke-width="1.1"/>
<text x="442.00" y="209.15" font-size="8" text-anchor="end" font-weight="normal" fill="#1a1a1a" stroke="#1a1a1a" >ERK</text>
<svg x="444.50" y="212.42" width="64.00" height="9.10">
<rect x="0" y="0" width="64.00" height="9.10" fill="#f3f3f3"/>
<g filter="url(#b1)" fill="#0a0a0a"><rect x="0.64" y="3.85" width="11.52" height="2.30" rx="1.15" opacity="0.92"/><rect x="13.44" y="3.85" width="11.52" height="2.30" rx="1.15" opacity="0.78"/><rect x="26.24" y="3.85" width="11.52" height="2.30" rx="1.15" opacity="0.79"/><rect x="39.04" y="3.85" width="11.52" height="2.30" rx="1.15" opacity="0.79"/><rect x="51.84" y="3.85" width="11.52" height="2.30" rx="1.15" opacity="0.83"/></g>
</svg>
<rect x="444.50" y="212.42" width="64.00" height="9.10" fill="none" stroke="#000" stroke-width="1.1"/>
<text x="442.00" y="219.77" font-size="8" text-anchor="end" font-weight="normal" fill="#1a1a1a" stroke="#1a1a1a" >β-Actin</text>
<text x="357.20" y="236.90" font-size="8.15" text-anchor="middle" font-weight="bold" fill="#000" stroke="#000"  stroke-width="0.15">FGFR3::TACC3 V555M</text>
<text x="357.20" y="246.70" font-size="8" text-anchor="middle" font-weight="normal" fill="#1a1a1a" stroke="#1a1a1a" >Erdafitinib (nmol/L)</text>
<text x="333.10" y="258.60" font-size="8" text-anchor="middle" font-weight="normal" fill="#1a1a1a" stroke="#1a1a1a" >0</text>
<text x="343.80" y="258.60" font-size="8" text-anchor="middle" font-weight="normal" fill="#1a1a1a" stroke="#1a1a1a" >10</text>
<text x="355.80" y="258.60" font-size="8" text-anchor="middle" font-weight="normal" fill="#1a1a1a" stroke="#1a1a1a" >30</text>
<text x="368.30" y="258.60" font-size="8" text-anchor="middle" font-weight="normal" fill="#1a1a1a" stroke="#1a1a1a" >100</text>
<text x="384.60" y="258.60" font-size="8" text-anchor="middle" font-weight="normal" fill="#1a1a1a" stroke="#1a1a1a" >300</text>
<svg x="325.50" y="262.00" width="64.00" height="9.10">
<rect x="0" y="0" width="64.00" height="9.10" fill="#e6e6e6"/>
<g filter="url(#b2)" fill="#0a0a0a"><rect x="0.64" y="2.45" width="11.52" height="4.20" rx="1.60" opacity="0.87"/><rect x="13.44" y="2.45" width="11.52" height="4.20" rx="1.60" opacity="0.97"/><rect x="26.24" y="2.45" width="11.52" height="4.20" rx="1.60" opacity="0.78"/><rect x="39.04" y="2.45" width="11.52" height="4.20" rx="1.60" opacity="0.64"/><rect x="51.84" y="2.45" width="11.52" height="4.20" rx="1.60" opacity="0.25"/></g>
</svg>
<rect x="325.50" y="262.00" width="64.00" height="9.10" fill="none" stroke="#000" stroke-width="1.1"/>
<text x="323.20" y="269.35" font-size="8" text-anchor="end" font-weight="normal" fill="#1a1a1a" stroke="#1a1a1a" >pFGFR</text>
<svg x="325.50" y="272.62" width="64.00" height="9.10">
<rect x="0" y="0" width="64.00" height="9.10" fill="#dfdfdf"/>
<g filter="url(#b1)" fill="#0a0a0a"><rect x="0.64" y="2.19" width="11.52" height="1.80" rx="0.90" opacity="0.59"/><rect x="13.44" y="2.19" width="11.52" height="1.80" rx="0.90" opacity="0.64"/><rect x="26.24" y="2.19" width="11.52" height="1.80" rx="0.90" opacity="0.64"/><rect x="39.04" y="2.19" width="11.52" height="1.80" rx="0.90" opacity="0.59"/><rect x="51.84" y="2.19" width="11.52" height="1.80" rx="0.90" opacity="0.59"/><rect x="0.64" y="5.47" width="11.52" height="1.80" rx="0.90" opacity="0.59"/><rect x="13.44" y="5.47" width="11.52" height="1.80" rx="0.90" opacity="0.64"/><rect x="26.24" y="5.47" width="11.52" height="1.80" rx="0.90" opacity="0.64"/><rect x="39.04" y="5.47" width="11.52" height="1.80" rx="0.90" opacity="0.59"/><rect x="51.84" y="5.47" width="11.52" height="1.80" rx="0.90" opacity="0.59"/></g>
</svg>
<rect x="325.50" y="272.62" width="64.00" height="9.10" fill="none" stroke="#000" stroke-width="1.1"/>
<text x="323.20" y="279.97" font-size="8" text-anchor="end" font-weight="normal" fill="#1a1a1a" stroke="#1a1a1a" >FGFR3</text>
<svg x="325.50" y="283.24" width="64.00" height="9.10">
<rect x="0" y="0" width="64.00" height="9.10" fill="#f3f3f3"/>
<g filter="url(#b1)" fill="#0a0a0a"><rect x="0.64" y="4.16" width="11.52" height="1.70" rx="0.85" opacity="0.70"/><rect x="13.44" y="4.16" width="11.52" height="1.70" rx="0.85" opacity="0.74"/><rect x="26.24" y="4.16" width="11.52" height="1.70" rx="0.85" opacity="0.64"/><rect x="39.04" y="4.16" width="11.52" height="1.70" rx="0.85" opacity="0.54"/><rect x="51.84" y="4.16" width="11.52" height="1.70" rx="0.85" opacity="0.41"/></g>
</svg>
<rect x="325.50" y="283.24" width="64.00" height="9.10" fill="none" stroke="#000" stroke-width="1.1"/>
<text x="323.20" y="290.59" font-size="8" text-anchor="end" font-weight="normal" fill="#1a1a1a" stroke="#1a1a1a" >pAKT</text>
<svg x="325.50" y="293.86" width="64.00" height="9.10">
<rect x="0" y="0" width="64.00" height="9.10" fill="#ececec"/>
<g filter="url(#b1)" fill="#0a0a0a"><rect x="0.64" y="3.86" width="11.52" height="2.30" rx="1.15" opacity="0.88"/><rect x="13.44" y="3.86" width="11.52" height="2.30" rx="1.15" opacity="0.94"/><rect x="26.24" y="3.86" width="11.52" height="2.30" rx="1.15" opacity="0.88"/><rect x="39.04" y="3.86" width="11.52" height="2.30" rx="1.15" opacity="0.94"/><rect x="51.84" y="3.86" width="11.52" height="2.30" rx="1.15" opacity="0.83"/></g>
</svg>
<rect x="325.50" y="293.86" width="64.00" height="9.10" fill="none" stroke="#000" stroke-width="1.1"/>
<text x="323.20" y="301.21" font-size="8" text-anchor="end" font-weight="normal" fill="#1a1a1a" stroke="#1a1a1a" >AKT</text>
<svg x="325.50" y="304.48" width="64.00" height="9.10">
<rect x="0" y="0" width="64.00" height="9.10" fill="#e6e6e6"/>
<g filter="url(#b1)" fill="#0a0a0a"><rect x="0.64" y="1.93" width="11.52" height="1.60" rx="0.80" opacity="0.49"/><rect x="13.44" y="1.93" width="11.52" height="1.60" rx="0.80" opacity="0.54"/><rect x="26.24" y="1.93" width="11.52" height="1.60" rx="0.80" opacity="0.49"/><rect x="39.04" y="1.93" width="11.52" height="1.60" rx="0.80" opacity="0.44"/><rect x="51.84" y="1.93" width="11.52" height="1.60" rx="0.80" opacity="0.28"/><rect x="0.64" y="5.40" width="11.52" height="2.30" rx="1.15" opacity="0.94"/><rect x="13.44" y="5.40" width="11.52" height="2.30" rx="1.15" opacity="0.94"/><rect x="26.24" y="5.40" width="11.52" height="2.30" rx="1.15" opacity="0.83"/><rect x="39.04" y="5.40" width="11.52" height="2.30" rx="1.15" opacity="0.68"/><rect x="51.84" y="5.40" width="11.52" height="2.30" rx="1.15" opacity="0.49"/></g>
</svg>
<rect x="325.50" y="304.48" width="64.00" height="9.10" fill="none" stroke="#000" stroke-width="1.1"/>
<text x="323.20" y="311.83" font-size="8" text-anchor="end" font-weight="normal" fill="#1a1a1a" stroke="#1a1a1a" >pERK</text>
<svg x="325.50" y="315.10" width="64.00" height="9.10">
<rect x="0" y="0" width="64.00" height="9.10" fill="#e4e4e4"/>
<g filter="url(#b1)" fill="#0a0a0a"><rect x="0.64" y="2.19" width="11.52" height="1.80" rx="0.90" opacity="0.59"/><rect x="13.44" y="2.19" width="11.52" height="1.80" rx="0.90" opacity="0.64"/><rect x="26.24" y="2.19" width="11.52" height="1.80" rx="0.90" opacity="0.59"/><rect x="39.04" y="2.19" width="11.52" height="1.80" rx="0.90" opacity="0.70"/><rect x="51.84" y="2.19" width="11.52" height="1.80" rx="0.90" opacity="0.54"/><rect x="0.64" y="5.47" width="11.52" height="1.80" rx="0.90" opacity="0.59"/><rect x="13.44" y="5.47" width="11.52" height="1.80" rx="0.90" opacity="0.64"/><rect x="26.24" y="5.47" width="11.52" height="1.80" rx="0.90" opacity="0.59"/><rect x="39.04" y="5.47" width="11.52" height="1.80" rx="0.90" opacity="0.70"/><rect x="51.84" y="5.47" width="11.52" height="1.80" rx="0.90" opacity="0.54"/></g>
</svg>
<rect x="325.50" y="315.10" width="64.00" height="9.10" fill="none" stroke="#000" stroke-width="1.1"/>
<text x="323.20" y="322.45" font-size="8" text-anchor="end" font-weight="normal" fill="#1a1a1a" stroke="#1a1a1a" >ERK</text>
<svg x="325.50" y="325.72" width="64.00" height="9.10">
<rect x="0" y="0" width="64.00" height="9.10" fill="#f3f3f3"/>
<g filter="url(#b1)" fill="#0a0a0a"><rect x="0.64" y="4.18" width="11.52" height="2.20" rx="1.10" opacity="0.68"/><rect x="13.44" y="4.18" width="11.52" height="2.20" rx="1.10" opacity="0.97"/><rect x="26.24" y="4.18" width="11.52" height="2.20" rx="1.10" opacity="0.88"/><rect x="39.04" y="4.18" width="11.52" height="2.20" rx="1.10" opacity="0.83"/><rect x="51.84" y="4.18" width="11.52" height="2.20" rx="1.10" opacity="0.78"/></g>
</svg>
<rect x="325.50" y="325.72" width="64.00" height="9.10" fill="none" stroke="#000" stroke-width="1.1"/>
<text x="323.20" y="333.07" font-size="8" text-anchor="end" font-weight="normal" fill="#1a1a1a" stroke="#1a1a1a" >β-Actin</text>
<text x="477.50" y="236.90" font-size="8.15" text-anchor="middle" font-weight="bold" fill="#000" stroke="#000"  stroke-width="0.15">FGFR3::TACC3 L608V</text>
<text x="477.00" y="246.70" font-size="8" text-anchor="middle" font-weight="normal" fill="#1a1a1a" stroke="#1a1a1a" >Erdafitinib (nmol/L)</text>
<text x="452.30" y="258.60" font-size="8" text-anchor="middle" font-weight="normal" fill="#1a1a1a" stroke="#1a1a1a" >0</text>
<text x="462.70" y="258.60" font-size="8" text-anchor="middle" font-weight="normal" fill="#1a1a1a" stroke="#1a1a1a" >10</text>
<text x="474.40" y="258.60" font-size="8" text-anchor="middle" font-weight="normal" fill="#1a1a1a" stroke="#1a1a1a" >30</text>
<text x="486.00" y="258.60" font-size="8" text-anchor="middle" font-weight="normal" fill="#1a1a1a" stroke="#1a1a1a" >100</text>
<text x="503.00" y="258.60" font-size="8" text-anchor="middle" font-weight="normal" fill="#1a1a1a" stroke="#1a1a1a" >300</text>
<svg x="444.50" y="262.00" width="64.00" height="9.10">
<rect x="0" y="0" width="64.00" height="9.10" fill="#e6e6e6"/>
<g filter="url(#b2)" fill="#0a0a0a"><rect x="0.64" y="2.55" width="11.52" height="4.00" rx="1.60" opacity="0.88"/><rect x="13.44" y="2.55" width="11.52" height="4.00" rx="1.60" opacity="0.39"/><rect x="26.24" y="2.55" width="11.52" height="4.00" rx="1.60" opacity="0.13"/><rect x="39.04" y="2.55" width="11.52" height="4.00" rx="1.60" opacity="0.10"/><rect x="51.84" y="2.55" width="11.52" height="4.00" rx="1.60" opacity="0.07"/></g>
</svg>
<rect x="444.50" y="262.00" width="64.00" height="9.10" fill="none" stroke="#000" stroke-width="1.1"/>
<text x="442.00" y="269.35" font-size="8" text-anchor="end" font-weight="normal" fill="#1a1a1a" stroke="#1a1a1a" >pFGFR</text>
<svg x="444.50" y="272.62" width="64.00" height="9.10">
<rect x="0" y="0" width="64.00" height="9.10" fill="#e4e4e4"/>
<g filter="url(#b1)" fill="#0a0a0a"><rect x="0.64" y="2.19" width="11.52" height="1.80" rx="0.90" opacity="0.65"/><rect x="13.44" y="2.19" width="11.52" height="1.80" rx="0.90" opacity="0.65"/><rect x="26.24" y="2.19" width="11.52" height="1.80" rx="0.90" opacity="0.65"/><rect x="39.04" y="2.19" width="11.52" height="1.80" rx="0.90" opacity="0.65"/><rect x="51.84" y="2.19" width="11.52" height="1.80" rx="0.90" opacity="0.68"/><rect x="0.64" y="5.47" width="11.52" height="1.80" rx="0.90" opacity="0.65"/><rect x="13.44" y="5.47" width="11.52" height="1.80" rx="0.90" opacity="0.65"/><rect x="26.24" y="5.47" width="11.52" height="1.80" rx="0.90" opacity="0.65"/><rect x="39.04" y="5.47" width="11.52" height="1.80" rx="0.90" opacity="0.65"/><rect x="51.84" y="5.47" width="11.52" height="1.80" rx="0.90" opacity="0.68"/></g>
</svg>
<rect x="444.50" y="272.62" width="64.00" height="9.10" fill="none" stroke="#000" stroke-width="1.1"/>
<text x="442.00" y="279.97" font-size="8" text-anchor="end" font-weight="normal" fill="#1a1a1a" stroke="#1a1a1a" >FGFR3</text>
<svg x="444.50" y="283.24" width="64.00" height="9.10">
<rect x="0" y="0" width="64.00" height="9.10" fill="#eeeeee"/>
<g filter="url(#b1)" fill="#0a0a0a"><rect x="0.64" y="3.86" width="11.52" height="2.30" rx="1.15" opacity="0.64"/><rect x="13.44" y="3.86" width="11.52" height="2.30" rx="1.15" opacity="0.83"/><rect x="26.24" y="3.86" width="11.52" height="2.30" rx="1.15" opacity="0.79"/><rect x="39.04" y="3.86" width="11.52" height="2.30" rx="1.15" opacity="0.79"/><rect x="51.84" y="3.86" width="11.52" height="2.30" rx="1.15" opacity="0.49"/></g>
</svg>
<rect x="444.50" y="283.24" width="64.00" height="9.10" fill="none" stroke="#000" stroke-width="1.1"/>
<text x="442.00" y="290.59" font-size="8" text-anchor="end" font-weight="normal" fill="#1a1a1a" stroke="#1a1a1a" >pAKT</text>
<svg x="444.50" y="293.86" width="64.00" height="9.10">
<rect x="0" y="0" width="64.00" height="9.10" fill="#f3f3f3"/>
<g filter="url(#b1)" fill="#0a0a0a"><rect x="0.64" y="3.76" width="11.52" height="2.50" rx="1.25" opacity="0.97"/><rect x="13.44" y="3.76" width="11.52" height="2.50" rx="1.25" opacity="0.97"/><rect x="26.24" y="3.76" width="11.52" height="2.50" rx="1.25" opacity="0.97"/><rect x="39.04" y="3.76" width="11.52" height="2.50" rx="1.25" opacity="0.97"/><rect x="51.84" y="3.76" width="11.52" height="2.50" rx="1.25" opacity="0.88"/></g>
</svg>
<rect x="444.50" y="293.86" width="64.00" height="9.10" fill="none" stroke="#000" stroke-width="1.1"/>
<text x="442.00" y="301.21" font-size="8" text-anchor="end" font-weight="normal" fill="#1a1a1a" stroke="#1a1a1a" >AKT</text>
<svg x="444.50" y="304.48" width="64.00" height="9.10">
<rect x="0" y="0" width="64.00" height="9.10" fill="#f4f4f4"/>
<g filter="url(#b1)" fill="#0a0a0a"><rect x="0.64" y="3.91" width="11.52" height="2.20" rx="1.10" opacity="0.88"/><rect x="13.44" y="3.91" width="11.52" height="2.20" rx="1.10" opacity="0.64"/><rect x="26.24" y="3.91" width="11.52" height="2.20" rx="1.10" opacity="0.59"/><rect x="39.04" y="3.91" width="11.52" height="2.20" rx="1.10" opacity="0.39"/><rect x="51.84" y="3.91" width="11.52" height="2.20" rx="1.10" opacity="0.13"/></g>
</svg>
<rect x="444.50" y="304.48" width="64.00" height="9.10" fill="none" stroke="#000" stroke-width="1.1"/>
<text x="442.00" y="311.83" font-size="8" text-anchor="end" font-weight="normal" fill="#1a1a1a" stroke="#1a1a1a" >pERK</text>
<svg x="444.50" y="315.10" width="64.00" height="9.10">
<rect x="0" y="0" width="64.00" height="9.10" fill="#eeeeee"/>
<g filter="url(#b1)" fill="#0a0a0a"><rect x="0.64" y="2.24" width="11.52" height="1.70" rx="0.85" opacity="0.68"/><rect x="13.44" y="2.24" width="11.52" height="1.70" rx="0.85" opacity="0.83"/><rect x="26.24" y="2.24" width="11.52" height="1.70" rx="0.85" opacity="0.78"/><rect x="39.04" y="2.24" width="11.52" height="1.70" rx="0.85" opacity="0.74"/><rect x="51.84" y="2.24" width="11.52" height="1.70" rx="0.85" opacity="0.68"/><rect x="0.64" y="5.52" width="11.52" height="1.70" rx="0.85" opacity="0.68"/><rect x="13.44" y="5.52" width="11.52" height="1.70" rx="0.85" opacity="0.83"/><rect x="26.24" y="5.52" width="11.52" height="1.70" rx="0.85" opacity="0.78"/><rect x="39.04" y="5.52" width="11.52" height="1.70" rx="0.85" opacity="0.74"/><rect x="51.84" y="5.52" width="11.52" height="1.70" rx="0.85" opacity="0.68"/></g>
</svg>
<rect x="444.50" y="315.10" width="64.00" height="9.10" fill="none" stroke="#000" stroke-width="1.1"/>
<text x="442.00" y="322.45" font-size="8" text-anchor="end" font-weight="normal" fill="#1a1a1a" stroke="#1a1a1a" >ERK</text>
<svg x="444.50" y="325.72" width="64.00" height="9.10">
<rect x="0" y="0" width="64.00" height="9.10" fill="#f4f4f4"/>
<g filter="url(#b1)" fill="#0a0a0a"><rect x="0.64" y="3.81" width="11.52" height="2.40" rx="1.20" opacity="0.92"/><rect x="13.44" y="3.81" width="11.52" height="2.40" rx="1.20" opacity="0.92"/><rect x="26.24" y="3.81" width="11.52" height="2.40" rx="1.20" opacity="0.92"/><rect x="39.04" y="3.81" width="11.52" height="2.40" rx="1.20" opacity="0.88"/><rect x="51.84" y="3.81" width="11.52" height="2.40" rx="1.20" opacity="0.74"/></g>
</svg>
<rect x="444.50" y="325.72" width="64.00" height="9.10" fill="none" stroke="#000" stroke-width="1.1"/>
<text x="442.00" y="333.07" font-size="8" text-anchor="end" font-weight="normal" fill="#1a1a1a" stroke="#1a1a1a" >β-Actin</text>
</g>
<g id="panelC">
<text x="3.00" y="360.20" font-size="10.2" text-anchor="start" font-weight="bold" fill="#000" stroke="#000"  stroke-width="0.15">C</text>
<text x="140.60" y="357.50" font-size="7.75" text-anchor="middle" font-weight="bold" fill="#000" stroke="#000"  stroke-width="0.15">FGFR3::TACC3 V553L</text>
<text x="83.20" y="369.00" font-size="8" text-anchor="middle" font-weight="normal" fill="#1a1a1a" stroke="#1a1a1a" >Pemigatinib (nmol/L)</text>
<text x="57.70" y="381.00" font-size="8" text-anchor="middle" font-weight="normal" fill="#1a1a1a" stroke="#1a1a1a" >0</text>
<text x="69.60" y="381.00" font-size="8" text-anchor="middle" font-weight="normal" fill="#1a1a1a" stroke="#1a1a1a" >10</text>
<text x="80.80" y="381.00" font-size="8" text-anchor="middle" font-weight="normal" fill="#1a1a1a" stroke="#1a1a1a" >30</text>
<text x="94.00" y="381.00" font-size="8" text-anchor="middle" font-weight="normal" fill="#1a1a1a" stroke="#1a1a1a" >100</text>
<text x="110.20" y="381.00" font-size="8" text-anchor="middle" font-weight="normal" fill="#1a1a1a" stroke="#1a1a1a" >300</text>
<svg x="51.50" y="384.60" width="63.00" height="9.20">
<rect x="0" y="0" width="63.00" height="9.20" fill="#d7d7d7"/>
<g filter="url(#b2)" fill="#0a0a0a"><rect x="0.63" y="3.10" width="11.34" height="3.00" rx="1.50" opacity="0.21"/><rect x="13.23" y="3.10" width="11.34" height="3.00" rx="1.50" opacity="0.18"/><rect x="25.83" y="3.10" width="11.34" height="3.00" rx="1.50" opacity="0.18"/><rect x="38.43" y="3.10" width="11.34" height="3.00" rx="1.50" opacity="0.12"/><rect x="51.03" y="3.10" width="11.34" height="3.00" rx="1.50" opacity="0.12"/></g>
</svg>
<rect x="51.50" y="384.60" width="63.00" height="9.20" fill="none" stroke="#000" stroke-width="1.1"/>
<text x="47.60" y="392.00" font-size="8" text-anchor="end" font-weight="normal" fill="#1a1a1a" stroke="#1a1a1a" >pFGFR</text>
<svg x="51.50" y="395.32" width="63.00" height="9.20">
<rect x="0" y="0" width="63.00" height="9.20" fill="#e9e9e9"/>
<g filter="url(#b1)" fill="#0a0a0a"><rect x="0.76" y="1.66" width="11.09" height="2.10" rx="1.05" opacity="0.97"/><rect x="13.36" y="1.96" width="11.09" height="2.10" rx="1.05" opacity="0.91"/><rect x="25.96" y="2.26" width="11.09" height="2.10" rx="1.05" opacity="0.87"/><rect x="38.56" y="2.56" width="11.09" height="2.10" rx="1.05" opacity="0.51"/><rect x="51.16" y="2.86" width="11.09" height="2.10" rx="1.05" opacity="0.57"/><rect x="0.76" y="5.51" width="11.09" height="1.40" rx="0.70" opacity="0.54"/><rect x="13.36" y="5.81" width="11.09" height="1.40" rx="0.70" opacity="0.49"/><rect x="25.96" y="6.11" width="11.09" height="1.40" rx="0.70" opacity="0.49"/><rect x="38.56" y="6.41" width="11.09" height="1.40" rx="0.70" opacity="0.33"/><rect x="51.16" y="6.71" width="11.09" height="1.40" rx="0.70" opacity="0.37"/></g>
</svg>
<rect x="51.50" y="395.32" width="63.00" height="9.20" fill="none" stroke="#000" stroke-width="1.1"/>
<text x="47.60" y="402.72" font-size="8" text-anchor="end" font-weight="normal" fill="#1a1a1a" stroke="#1a1a1a" >FGFR3</text>
<svg x="51.50" y="406.04" width="63.00" height="9.20">
<rect x="0" y="0" width="63.00" height="9.20" fill="#ececec"/>
<g filter="url(#b1)" fill="#0a0a0a"><rect x="0.63" y="3.00" width="11.34" height="3.20" rx="1.60" opacity="1.00"/><rect x="13.86" y="4.04" width="10.08" height="2.20" rx="1.10" opacity="0.88"/><rect x="26.46" y="4.24" width="10.08" height="2.20" rx="1.10" opacity="0.85"/><rect x="39.06" y="4.44" width="10.08" height="2.20" rx="1.10" opacity="0.51"/><rect x="51.66" y="4.64" width="10.08" height="2.20" rx="1.10" opacity="0.45"/></g>
</svg>
<rect x="51.50" y="406.04" width="63.00" height="9.20" fill="none" stroke="#000" stroke-width="1.1"/>
<text x="47.60" y="413.44" font-size="8" text-anchor="end" font-weight="normal" fill="#1a1a1a" stroke="#1a1a1a" >pAKT</text>
<svg x="51.50" y="416.76" width="63.00" height="9.20">
<rect x="0" y="0" width="63.00" height="9.20" fill="#f3f3f3"/>
<g filter="url(#b1)" fill="#0a0a0a"><rect x="1.26" y="3.51" width="10.08" height="1.90" rx="0.95" opacity="0.68"/><rect x="13.86" y="3.81" width="10.08" height="1.90" rx="0.95" opacity="0.39"/><rect x="26.46" y="4.11" width="10.08" height="1.90" rx="0.95" opacity="0.39"/><rect x="39.06" y="4.41" width="10.08" height="1.90" rx="0.95" opacity="0.39"/><rect x="51.66" y="4.71" width="10.08" height="1.90" rx="0.95" opacity="0.39"/></g>
</svg>
<rect x="51.50" y="416.76" width="63.00" height="9.20" fill="none" stroke="#000" stroke-width="1.1"/>
<text x="47.60" y="424.16" font-size="8" text-anchor="end" font-weight="normal" fill="#1a1a1a" stroke="#1a1a1a" >AKT</text>
<svg x="51.50" y="427.48" width="63.00" height="9.20">
<rect x="0" y="0" width="63.00" height="9.20" fill="#f3f3f3"/>
<g filter="url(#b1)" fill="#0a0a0a"><rect x="0.63" y="2.01" width="11.34" height="1.50" rx="0.75" opacity="0.49"/><rect x="13.23" y="2.01" width="11.34" height="1.50" rx="0.75" opacity="0.45"/><rect x="25.83" y="2.01" width="11.34" height="1.50" rx="0.75" opacity="0.39"/><rect x="38.43" y="2.01" width="11.34" height="1.50" rx="0.75" opacity="0.09"/><rect x="51.03" y="2.01" width="11.34" height="1.50" rx="0.75" opacity="0.04"/><rect x="0.63" y="5.62" width="11.34" height="2.00" rx="1.00" opacity="0.88"/><rect x="13.23" y="5.62" width="11.34" height="2.00" rx="1.00" opacity="0.83"/><rect x="25.83" y="5.62" width="11.34" height="2.00" rx="1.00" opacity="0.74"/><rect x="38.43" y="5.62" width="11.34" height="2.00" rx="1.00" opacity="0.22"/><rect x="51.03" y="5.62" width="11.34" height="2.00" rx="1.00" opacity="0.09"/></g>
</svg>
<rect x="51.50" y="427.48" width="63.00" height="9.20" fill="none" stroke="#000" stroke-width="1.1"/>
<text x="47.60" y="434.88" font-size="8" text-anchor="end" font-weight="normal" fill="#1a1a1a" stroke="#1a1a1a" >pERK</text>
<svg x="51.50" y="438.20" width="63.00" height="9.20">
<rect x="0" y="0" width="63.00" height="9.20" fill="#f2f2f2"/>
<g filter="url(#b1)" fill="#0a0a0a"><rect x="0.63" y="2.61" width="11.34" height="1.40" rx="0.70" opacity="0.22"/><rect x="13.23" y="2.61" width="11.34" height="1.40" rx="0.70" opacity="0.22"/><rect x="25.83" y="2.61" width="11.34" height="1.40" rx="0.70" opacity="0.23"/><rect x="38.43" y="2.61" width="11.34" height="1.40" rx="0.70" opacity="0.22"/><rect x="51.03" y="2.61" width="11.34" height="1.40" rx="0.70" opacity="0.22"/><rect x="0.63" y="5.56" width="11.34" height="1.40" rx="0.70" opacity="0.22"/><rect x="13.23" y="5.56" width="11.34" height="1.40" rx="0.70" opacity="0.22"/><rect x="25.83" y="5.56" width="11.34" height="1.40" rx="0.70" opacity="0.23"/><rect x="38.43" y="5.56" width="11.34" height="1.40" rx="0.70" opacity="0.22"/><rect x="51.03" y="5.56" width="11.34" height="1.40" rx="0.70" opacity="0.22"/></g>
</svg>
<rect x="51.50" y="438.20" width="63.00" height="9.20" fill="none" stroke="#000" stroke-width="1.1"/>
<text x="47.60" y="445.60" font-size="8" text-anchor="end" font-weight="normal" fill="#1a1a1a" stroke="#1a1a1a" >ERK</text>
<svg x="51.50" y="448.92" width="63.00" height="9.20">
<rect x="0" y="0" width="63.00" height="9.20" fill="#f7f7f7"/>
<g filter="url(#b1)" fill="#0a0a0a"><rect x="0.63" y="3.80" width="11.34" height="1.60" rx="0.80" opacity="0.59"/><rect x="13.23" y="3.80" width="11.34" height="1.60" rx="0.80" opacity="0.16"/><rect x="25.83" y="3.80" width="11.34" height="1.60" rx="0.80" opacity="0.09"/><rect x="38.43" y="3.80" width="11.34" height="1.60" rx="0.80" opacity="0.04"/><rect x="51.03" y="3.80" width="11.34" height="1.60" rx="0.80" opacity="0.04"/></g>
</svg>
<rect x="51.50" y="448.92" width="63.00" height="9.20" fill="none" stroke="#000" stroke-width="1.1"/>
<text x="47.60" y="456.32" font-size="8" text-anchor="end" font-weight="normal" fill="#1a1a1a" stroke="#1a1a1a" >pS6</text>
<svg x="51.50" y="459.64" width="63.00" height="9.20">
<rect x="0" y="0" width="63.00" height="9.20" fill="#ececec"/>
<g filter="url(#b1)" fill="#0a0a0a"><rect x="0.63" y="3.96" width="11.34" height="2.20" rx="1.10" opacity="0.88"/><rect x="13.23" y="3.96" width="11.34" height="2.20" rx="1.10" opacity="0.83"/><rect x="25.83" y="3.96" width="11.34" height="2.20" rx="1.10" opacity="0.78"/><rect x="38.43" y="3.96" width="11.34" height="2.20" rx="1.10" opacity="0.74"/><rect x="51.03" y="3.96" width="11.34" height="2.20" rx="1.10" opacity="0.78"/></g>
</svg>
<rect x="51.50" y="459.64" width="63.00" height="9.20" fill="none" stroke="#000" stroke-width="1.1"/>
<text x="47.60" y="467.04" font-size="8" text-anchor="end" font-weight="normal" fill="#1a1a1a" stroke="#1a1a1a" >S6</text>
<svg x="51.50" y="470.36" width="63.00" height="9.20">
<rect x="0" y="0" width="63.00" height="9.20" fill="#f4f4f4"/>
<g filter="url(#b1)" fill="#0a0a0a"><rect x="0.63" y="4.06" width="11.34" height="2.00" rx="1.00" opacity="0.92"/><rect x="13.23" y="4.06" width="11.34" height="2.00" rx="1.00" opacity="0.87"/><rect x="25.83" y="4.06" width="11.34" height="2.00" rx="1.00" opacity="0.68"/><rect x="38.43" y="4.06" width="11.34" height="2.00" rx="1.00" opacity="0.59"/><rect x="51.03" y="4.06" width="11.34" height="2.00" rx="1.00" opacity="0.49"/></g>
</svg>
<rect x="51.50" y="470.36" width="63.00" height="9.20" fill="none" stroke="#000" stroke-width="1.1"/>
<text x="47.60" y="477.76" font-size="8" text-anchor="end" font-weight="normal" fill="#1a1a1a" stroke="#1a1a1a" >β-Actin</text>
<text x="196.60" y="369.30" font-size="8" text-anchor="middle" font-weight="normal" fill="#1a1a1a" stroke="#1a1a1a" >Erdafitinib (nmol/L)</text>
<text x="171.60" y="380.90" font-size="8" text-anchor="middle" font-weight="normal" fill="#1a1a1a" stroke="#1a1a1a" >0</text>
<text x="183.40" y="380.90" font-size="8" text-anchor="middle" font-weight="normal" fill="#1a1a1a" stroke="#1a1a1a" >10</text>
<text x="196.20" y="380.90" font-size="8" text-anchor="middle" font-weight="normal" fill="#1a1a1a" stroke="#1a1a1a" >30</text>
<text x="209.80" y="380.90" font-size="8" text-anchor="middle" font-weight="normal" fill="#1a1a1a" stroke="#1a1a1a" >100</text>
<text x="226.00" y="380.90" font-size="8" text-anchor="middle" font-weight="normal" fill="#1a1a1a" stroke="#1a1a1a" >300</text>
<svg x="164.50" y="384.60" width="64.00" height="9.20">
<rect x="0" y="0" width="64.00" height="9.20" fill="#dcdcdc"/>
<g filter="url(#b2)" fill="#0a0a0a"><rect x="0.64" y="3.10" width="11.52" height="3.00" rx="1.50" opacity="0.13"/><rect x="13.44" y="3.10" width="11.52" height="3.00" rx="1.50" opacity="0.12"/><rect x="26.24" y="3.10" width="11.52" height="3.00" rx="1.50" opacity="0.12"/><rect x="39.04" y="3.10" width="11.52" height="3.00" rx="1.50" opacity="0.10"/><rect x="51.84" y="3.10" width="11.52" height="3.00" rx="1.50" opacity="0.10"/></g>
</svg>
<rect x="164.50" y="384.60" width="64.00" height="9.20" fill="none" stroke="#000" stroke-width="1.1"/>
<text x="161.00" y="392.00" font-size="8" text-anchor="end" font-weight="normal" fill="#1a1a1a" stroke="#1a1a1a" >pFGFR</text>
<svg x="164.50" y="395.32" width="64.00" height="9.20">
<rect x="0" y="0" width="64.00" height="9.20" fill="#e3e3e3"/>
<g filter="url(#b1)" fill="#0a0a0a"><rect x="0.64" y="2.41" width="11.52" height="1.80" rx="0.90" opacity="0.83"/><rect x="13.44" y="2.41" width="11.52" height="1.80" rx="0.90" opacity="0.78"/><rect x="26.24" y="2.41" width="11.52" height="1.80" rx="0.90" opacity="0.68"/><rect x="39.04" y="2.41" width="11.52" height="1.80" rx="0.90" opacity="0.88"/><rect x="51.84" y="2.41" width="11.52" height="1.80" rx="0.90" opacity="0.83"/><rect x="0.64" y="5.54" width="11.52" height="1.80" rx="0.90" opacity="0.83"/><rect x="13.44" y="5.54" width="11.52" height="1.80" rx="0.90" opacity="0.78"/><rect x="26.24" y="5.54" width="11.52" height="1.80" rx="0.90" opacity="0.68"/><rect x="39.04" y="5.54" width="11.52" height="1.80" rx="0.90" opacity="0.88"/><rect x="51.84" y="5.54" width="11.52" height="1.80" rx="0.90" opacity="0.83"/></g>
</svg>
<rect x="164.50" y="395.32" width="64.00" height="9.20" fill="none" stroke="#000" stroke-width="1.1"/>
<text x="161.00" y="402.72" font-size="8" text-anchor="end" font-weight="normal" fill="#1a1a1a" stroke="#1a1a1a" >FGFR3</text>
<svg x="164.50" y="406.04" width="64.00" height="9.20">
<rect x="0" y="0" width="64.00" height="9.20" fill="#f3f3f3"/>
<g filter="url(#b1)" fill="#0a0a0a"><rect x="0.64" y="3.60" width="11.52" height="2.00" rx="1.00" opacity="0.88"/><rect x="13.44" y="3.60" width="11.52" height="2.00" rx="1.00" opacity="0.64"/><rect x="26.24" y="3.60" width="11.52" height="2.00" rx="1.00" opacity="0.54"/><rect x="39.04" y="3.60" width="11.52" height="2.00" rx="1.00" opacity="0.59"/><rect x="51.84" y="3.60" width="11.52" height="2.00" rx="1.00" opacity="0.49"/></g>
</svg>
<rect x="164.50" y="406.04" width="64.00" height="9.20" fill="none" stroke="#000" stroke-width="1.1"/>
<text x="161.00" y="413.44" font-size="8" text-anchor="end" font-weight="normal" fill="#1a1a1a" stroke="#1a1a1a" >pAKT</text>
<svg x="164.50" y="416.76" width="64.00" height="9.20">
<rect x="0" y="0" width="64.00" height="9.20" fill="#f3f3f3"/>
<g filter="url(#b1)" fill="#0a0a0a"><rect x="0.64" y="4.06" width="11.52" height="2.00" rx="1.00" opacity="0.45"/><rect x="13.44" y="4.06" width="11.52" height="2.00" rx="1.00" opacity="0.49"/><rect x="26.24" y="4.06" width="11.52" height="2.00" rx="1.00" opacity="0.45"/><rect x="39.04" y="4.06" width="11.52" height="2.00" rx="1.00" opacity="0.54"/><rect x="51.84" y="4.06" width="11.52" height="2.00" rx="1.00" opacity="0.49"/></g>
</svg>
<rect x="164.50" y="416.76" width="64.00" height="9.20" fill="none" stroke="#000" stroke-width="1.1"/>
<text x="161.00" y="424.16" font-size="8" text-anchor="end" font-weight="normal" fill="#1a1a1a" stroke="#1a1a1a" >AKT</text>
<svg x="164.50" y="427.48" width="64.00" height="9.20">
<rect x="0" y="0" width="64.00" height="9.20" fill="#f4f4f4"/>
<g filter="url(#b1)" fill="#0a0a0a"><rect x="0.64" y="2.38" width="11.52" height="1.50" rx="0.75" opacity="0.33"/><rect x="13.44" y="2.38" width="11.52" height="1.50" rx="0.75" opacity="0.33"/><rect x="26.24" y="2.38" width="11.52" height="1.50" rx="0.75" opacity="0.13"/><rect x="39.04" y="2.38" width="11.52" height="1.50" rx="0.75" opacity="0.04"/><rect x="51.84" y="2.38" width="11.52" height="1.50" rx="0.75" opacity="0.04"/><rect x="0.64" y="5.51" width="11.52" height="1.50" rx="0.75" opacity="0.41"/><rect x="13.44" y="5.51" width="11.52" height="1.50" rx="0.75" opacity="0.41"/><rect x="26.24" y="5.51" width="11.52" height="1.50" rx="0.75" opacity="0.16"/><rect x="39.04" y="5.51" width="11.52" height="1.50" rx="0.75" opacity="0.04"/><rect x="51.84" y="5.51" width="11.52" height="1.50" rx="0.75" opacity="0.04"/></g>
</svg>
<rect x="164.50" y="427.48" width="64.00" height="9.20" fill="none" stroke="#000" stroke-width="1.1"/>
<text x="161.00" y="434.88" font-size="8" text-anchor="end" font-weight="normal" fill="#1a1a1a" stroke="#1a1a1a" >pERK</text>
<svg x="164.50" y="438.20" width="64.00" height="9.20">
<rect x="0" y="0" width="64.00" height="9.20" fill="#f3f3f3"/>
<g filter="url(#b1)" fill="#0a0a0a"><rect x="0.64" y="2.61" width="11.52" height="1.40" rx="0.70" opacity="0.22"/><rect x="13.44" y="2.61" width="11.52" height="1.40" rx="0.70" opacity="0.22"/><rect x="26.24" y="2.61" width="11.52" height="1.40" rx="0.70" opacity="0.22"/><rect x="39.04" y="2.61" width="11.52" height="1.40" rx="0.70" opacity="0.39"/><rect x="51.84" y="2.61" width="11.52" height="1.40" rx="0.70" opacity="0.39"/><rect x="0.64" y="5.56" width="11.52" height="1.40" rx="0.70" opacity="0.22"/><rect x="13.44" y="5.56" width="11.52" height="1.40" rx="0.70" opacity="0.22"/><rect x="26.24" y="5.56" width="11.52" height="1.40" rx="0.70" opacity="0.22"/><rect x="39.04" y="5.56" width="11.52" height="1.40" rx="0.70" opacity="0.39"/><rect x="51.84" y="5.56" width="11.52" height="1.40" rx="0.70" opacity="0.39"/></g>
</svg>
<rect x="164.50" y="438.20" width="64.00" height="9.20" fill="none" stroke="#000" stroke-width="1.1"/>
<text x="161.00" y="445.60" font-size="8" text-anchor="end" font-weight="normal" fill="#1a1a1a" stroke="#1a1a1a" >ERK</text>
<svg x="164.50" y="448.92" width="64.00" height="9.20">
<rect x="0" y="0" width="64.00" height="9.20" fill="#f7f7f7"/>
<g filter="url(#b1)" fill="#0a0a0a"><rect x="0.64" y="3.85" width="11.52" height="1.50" rx="0.75" opacity="0.33"/><rect x="13.44" y="3.85" width="11.52" height="1.50" rx="0.75" opacity="0.04"/></g>
</svg>
<rect x="164.50" y="448.92" width="64.00" height="9.20" fill="none" stroke="#000" stroke-width="1.1"/>
<text x="161.00" y="456.32" font-size="8" text-anchor="end" font-weight="normal" fill="#1a1a1a" stroke="#1a1a1a" >pS6</text>
<svg x="164.50" y="459.64" width="64.00" height="9.20">
<rect x="0" y="0" width="64.00" height="9.20" fill="#e9e9e9"/>
<g filter="url(#b1)" fill="#0a0a0a"><rect x="0.64" y="3.66" width="11.52" height="2.80" rx="1.40" opacity="0.92"/><rect x="13.44" y="3.66" width="11.52" height="2.80" rx="1.40" opacity="0.97"/><rect x="26.24" y="3.66" width="11.52" height="2.80" rx="1.40" opacity="0.92"/><rect x="39.04" y="3.66" width="11.52" height="2.80" rx="1.40" opacity="0.97"/><rect x="51.84" y="3.66" width="11.52" height="2.80" rx="1.40" opacity="0.92"/></g>
</svg>
<rect x="164.50" y="459.64" width="64.00" height="9.20" fill="none" stroke="#000" stroke-width="1.1"/>
<text x="161.00" y="467.04" font-size="8" text-anchor="end" font-weight="normal" fill="#1a1a1a" stroke="#1a1a1a" >S6</text>
<svg x="164.50" y="470.36" width="64.00" height="9.20">
<rect x="0" y="0" width="64.00" height="9.20" fill="#f4f4f4"/>
<g filter="url(#b1)" fill="#0a0a0a"><rect x="0.64" y="4.11" width="11.52" height="1.90" rx="0.95" opacity="0.78"/><rect x="13.44" y="4.11" width="11.52" height="1.90" rx="0.95" opacity="0.78"/><rect x="26.24" y="4.11" width="11.52" height="1.90" rx="0.95" opacity="0.59"/><rect x="39.04" y="4.11" width="11.52" height="1.90" rx="0.95" opacity="0.78"/><rect x="51.84" y="4.11" width="11.52" height="1.90" rx="0.95" opacity="0.74"/></g>
</svg>
<rect x="164.50" y="470.36" width="64.00" height="9.20" fill="none" stroke="#000" stroke-width="1.1"/>
<text x="161.00" y="477.76" font-size="8" text-anchor="end" font-weight="normal" fill="#1a1a1a" stroke="#1a1a1a" >β-Actin</text>
</g>
<g id="panelD">
<text x="2.30" y="502.00" font-size="10.2" text-anchor="start" font-weight="bold" fill="#000" stroke="#000"  stroke-width="0.15">D</text>
<text x="145.20" y="500.20" font-size="8.15" text-anchor="middle" font-weight="bold" fill="#000" stroke="#000"  stroke-width="0.15">FGFR3::TACC3</text>
<text x="118.50" y="513.10" font-size="8.15" text-anchor="middle" font-weight="bold" fill="#000" stroke="#000"  stroke-width="0.15">WT</text>
<text x="147.30" y="513.10" font-size="8.15" text-anchor="middle" font-weight="bold" fill="#000" stroke="#000"  stroke-width="0.15">N540K</text>
<text x="178.30" y="513.10" font-size="8.15" text-anchor="middle" font-weight="bold" fill="#000" stroke="#000"  stroke-width="0.15">V555L</text>
<text x="96.60" y="523.30" font-size="8" text-anchor="end" font-weight="normal" fill="#1a1a1a" stroke="#1a1a1a" >Erdafitinib (nmol/L)</text>
<text x="109.40" y="523.30" font-size="8" text-anchor="middle" font-weight="normal" fill="#1a1a1a" stroke="#1a1a1a" >0</text>
<text x="123.80" y="523.30" font-size="8" text-anchor="middle" font-weight="normal" fill="#1a1a1a" stroke="#1a1a1a" >30</text>
<text x="138.90" y="523.30" font-size="8" text-anchor="middle" font-weight="normal" fill="#1a1a1a" stroke="#1a1a1a" >0</text>
<text x="153.80" y="523.30" font-size="8" text-anchor="middle" font-weight="normal" fill="#1a1a1a" stroke="#1a1a1a" >30</text>
<text x="168.70" y="523.30" font-size="8" text-anchor="middle" font-weight="normal" fill="#1a1a1a" stroke="#1a1a1a" >0</text>
<text x="183.20" y="523.30" font-size="8" text-anchor="middle" font-weight="normal" fill="#1a1a1a" stroke="#1a1a1a" >30</text>
<svg x="101.50" y="527.50" width="87.00" height="9.90">
<rect x="0" y="0" width="87.00" height="9.90" fill="#bcbcbc"/>
<rect x="53.94" y="-2" width="41.76" height="13.90" fill="#000" opacity="0.18" filter="url(#b3)"/>
<g filter="url(#b15)" fill="#0a0a0a"><rect x="0.72" y="2.56" width="13.05" height="2.40" rx="1.20" opacity="0.06"/><rect x="15.22" y="2.56" width="13.05" height="2.40" rx="1.20" opacity="0.06"/><rect x="29.73" y="2.56" width="13.05" height="2.40" rx="1.20" opacity="0.33"/><rect x="44.23" y="2.56" width="13.05" height="2.40" rx="1.20" opacity="0.30"/><rect x="58.73" y="2.56" width="13.05" height="2.40" rx="1.20" opacity="0.88"/><rect x="73.22" y="2.56" width="13.05" height="2.40" rx="1.20" opacity="0.70"/></g>
</svg>
<rect x="101.50" y="527.50" width="87.00" height="9.90" fill="none" stroke="#000" stroke-width="1.1"/>
<text x="96.80" y="535.25" font-size="8" text-anchor="end" font-weight="normal" fill="#1a1a1a" stroke="#1a1a1a" >pFGFR short exposure</text>
<svg x="101.50" y="538.90" width="87.00" height="9.90">
<rect x="0" y="0" width="87.00" height="9.90" fill="#ededed"/>
<rect x="26.10" y="-2" width="69.60" height="13.90" fill="#000" opacity="0.2" filter="url(#b3)"/>
<rect x="53.94" y="-2" width="41.76" height="13.90" fill="#000" opacity="0.22" filter="url(#b3)"/>
<g filter="url(#b15)" fill="#0a0a0a"><rect x="0.72" y="3.35" width="13.05" height="3.20" rx="1.60" opacity="0.06"/><rect x="15.22" y="3.35" width="13.05" height="3.20" rx="1.60" opacity="0.07"/><rect x="29.73" y="3.35" width="13.05" height="3.20" rx="1.60" opacity="0.91"/><rect x="44.23" y="3.35" width="13.05" height="3.20" rx="1.60" opacity="0.78"/><rect x="73.22" y="3.35" width="13.05" height="3.20" rx="1.60" opacity="0.91"/><rect x="58.15" y="1.45" width="14.21" height="7.00" rx="1.60" opacity="1.00"/></g>
</svg>
<rect x="101.50" y="538.90" width="87.00" height="9.90" fill="none" stroke="#000" stroke-width="1.1"/>
<text x="96.80" y="546.65" font-size="8" text-anchor="end" font-weight="normal" fill="#1a1a1a" stroke="#1a1a1a" >pFGFR long exposure</text>
<svg x="101.50" y="550.50" width="87.00" height="9.90">
<rect x="0" y="0" width="87.00" height="9.90" fill="#ededed"/>
<g filter="url(#b15)" fill="#0a0a0a"><rect x="0.72" y="2.32" width="13.05" height="1.70" rx="0.85" opacity="0.22"/><rect x="15.22" y="2.32" width="13.05" height="1.70" rx="0.85" opacity="0.25"/><rect x="29.73" y="2.32" width="13.05" height="1.70" rx="0.85" opacity="0.39"/><rect x="44.23" y="2.32" width="13.05" height="1.70" rx="0.85" opacity="0.37"/><rect x="58.73" y="2.32" width="13.05" height="1.70" rx="0.85" opacity="0.25"/><rect x="73.22" y="2.32" width="13.05" height="1.70" rx="0.85" opacity="0.21"/><rect x="0.72" y="5.88" width="13.05" height="1.70" rx="0.85" opacity="0.22"/><rect x="15.22" y="5.88" width="13.05" height="1.70" rx="0.85" opacity="0.25"/><rect x="29.73" y="5.88" width="13.05" height="1.70" rx="0.85" opacity="0.41"/><rect x="44.23" y="5.88" width="13.05" height="1.70" rx="0.85" opacity="0.37"/><rect x="58.73" y="5.88" width="13.05" height="1.70" rx="0.85" opacity="0.22"/><rect x="73.22" y="5.88" width="13.05" height="1.70" rx="0.85" opacity="0.18"/></g>
</svg>
<rect x="101.50" y="550.50" width="87.00" height="9.90" fill="none" stroke="#000" stroke-width="1.1"/>
<text x="96.80" y="558.25" font-size="8" text-anchor="end" font-weight="normal" fill="#1a1a1a" stroke="#1a1a1a" >FGFR3</text>
<svg x="101.50" y="562.50" width="87.00" height="9.90">
<rect x="0" y="0" width="87.00" height="9.90" fill="#f4f4f4"/>
<g filter="url(#b15)" fill="#0a0a0a"><rect x="0.36" y="3.65" width="13.77" height="3.00" rx="1.50" opacity="1.00"/><rect x="29.36" y="3.65" width="13.77" height="3.00" rx="1.50" opacity="1.00"/><rect x="43.86" y="3.65" width="13.77" height="3.00" rx="1.50" opacity="0.95"/><rect x="15.22" y="4.44" width="13.05" height="2.00" rx="1.00" opacity="0.78"/><rect x="58.73" y="4.44" width="13.05" height="2.00" rx="1.00" opacity="0.39"/><rect x="73.22" y="4.44" width="13.05" height="2.00" rx="1.00" opacity="0.32"/></g>
</svg>
<rect x="101.50" y="562.50" width="87.00" height="9.90" fill="none" stroke="#000" stroke-width="1.1"/>
<text x="96.80" y="570.25" font-size="8" text-anchor="end" font-weight="normal" fill="#1a1a1a" stroke="#1a1a1a" >pAKT</text>
<svg x="101.50" y="574.50" width="87.00" height="9.90">
<rect x="0" y="0" width="87.00" height="9.90" fill="#f6f6f6"/>
<g filter="url(#b15)" fill="#0a0a0a"><rect x="0.72" y="4.79" width="13.05" height="1.90" rx="0.95" opacity="0.59"/><rect x="15.22" y="4.79" width="13.05" height="1.90" rx="0.95" opacity="0.59"/><rect x="29.73" y="4.79" width="13.05" height="1.90" rx="0.95" opacity="0.64"/><rect x="44.23" y="4.79" width="13.05" height="1.90" rx="0.95" opacity="0.61"/><rect x="58.73" y="4.79" width="13.05" height="1.90" rx="0.95" opacity="0.68"/><rect x="73.22" y="4.79" width="13.05" height="1.90" rx="0.95" opacity="0.67"/></g>
</svg>
<rect x="101.50" y="574.50" width="87.00" height="9.90" fill="none" stroke="#000" stroke-width="1.1"/>
<text x="96.80" y="582.25" font-size="8" text-anchor="end" font-weight="normal" fill="#1a1a1a" stroke="#1a1a1a" >AKT</text>
<svg x="101.50" y="586.50" width="87.00" height="9.90">
<rect x="0" y="0" width="87.00" height="9.90" fill="#f4f4f4"/>
<g filter="url(#b15)" fill="#0a0a0a"><rect x="0.36" y="0.68" width="13.77" height="3.00" rx="1.50" opacity="0.13"/><rect x="29.36" y="0.68" width="13.77" height="3.00" rx="1.50" opacity="0.95"/><rect x="43.86" y="0.68" width="13.77" height="3.00" rx="1.50" opacity="0.91"/><rect x="0.36" y="5.53" width="13.77" height="3.20" rx="1.60" opacity="0.23"/><rect x="14.86" y="5.53" width="13.77" height="3.20" rx="1.60" opacity="0.04"/><rect x="29.36" y="5.53" width="13.77" height="3.20" rx="1.60" opacity="1.00"/><rect x="43.86" y="5.53" width="13.77" height="3.20" rx="1.60" opacity="1.00"/><rect x="58.73" y="5.04" width="13.05" height="2.20" rx="1.10" opacity="0.87"/><rect x="73.22" y="5.04" width="13.05" height="2.20" rx="1.10" opacity="0.42"/></g>
</svg>
<rect x="101.50" y="586.50" width="87.00" height="9.90" fill="none" stroke="#000" stroke-width="1.1"/>
<text x="96.80" y="594.25" font-size="8" text-anchor="end" font-weight="normal" fill="#1a1a1a" stroke="#1a1a1a" >pERK</text>
<svg x="101.50" y="598.50" width="87.00" height="9.90">
<rect x="0" y="0" width="87.00" height="9.90" fill="#f4f4f4"/>
<g filter="url(#b15)" fill="#0a0a0a"><rect x="0.72" y="3.01" width="13.05" height="1.50" rx="0.75" opacity="0.30"/><rect x="15.22" y="3.01" width="13.05" height="1.50" rx="0.75" opacity="0.39"/><rect x="29.73" y="3.01" width="13.05" height="1.50" rx="0.75" opacity="0.39"/><rect x="44.23" y="3.01" width="13.05" height="1.50" rx="0.75" opacity="0.33"/><rect x="58.73" y="3.01" width="13.05" height="1.50" rx="0.75" opacity="0.33"/><rect x="73.22" y="3.01" width="13.05" height="1.50" rx="0.75" opacity="0.39"/><rect x="0.72" y="5.98" width="13.05" height="1.50" rx="0.75" opacity="0.28"/><rect x="15.22" y="5.98" width="13.05" height="1.50" rx="0.75" opacity="0.37"/><rect x="29.73" y="5.98" width="13.05" height="1.50" rx="0.75" opacity="0.39"/><rect x="44.23" y="5.98" width="13.05" height="1.50" rx="0.75" opacity="0.30"/><rect x="58.73" y="5.98" width="13.05" height="1.50" rx="0.75" opacity="0.33"/><rect x="73.22" y="5.98" width="13.05" height="1.50" rx="0.75" opacity="0.37"/></g>
</svg>
<rect x="101.50" y="598.50" width="87.00" height="9.90" fill="none" stroke="#000" stroke-width="1.1"/>
<text x="96.80" y="606.25" font-size="8" text-anchor="end" font-weight="normal" fill="#1a1a1a" stroke="#1a1a1a" >ERK</text>
<svg x="101.50" y="610.30" width="87.00" height="9.90">
<rect x="0" y="0" width="87.00" height="9.90" fill="#f5f5f5"/>
<g filter="url(#b15)" fill="#0a0a0a"><rect x="0.72" y="4.34" width="13.05" height="2.20" rx="1.10" opacity="0.33"/><rect x="15.22" y="4.34" width="13.05" height="2.20" rx="1.10" opacity="0.21"/><rect x="29.73" y="4.34" width="13.05" height="2.20" rx="1.10" opacity="0.97"/><rect x="44.23" y="4.34" width="13.05" height="2.20" rx="1.10" opacity="0.95"/><rect x="58.73" y="4.34" width="13.05" height="2.20" rx="1.10" opacity="0.78"/><rect x="73.22" y="4.34" width="13.05" height="2.20" rx="1.10" opacity="0.81"/></g>
</svg>
<rect x="101.50" y="610.30" width="87.00" height="9.90" fill="none" stroke="#000" stroke-width="1.1"/>
<text x="96.80" y="618.05" font-size="8" text-anchor="end" font-weight="normal" fill="#1a1a1a" stroke="#1a1a1a" >pS6</text>
<svg x="101.50" y="621.80" width="87.00" height="9.90">
<rect x="0" y="0" width="87.00" height="9.90" fill="#eaeaea"/>
<g filter="url(#b15)" fill="#0a0a0a"><rect x="0.00" y="4.94" width="14.50" height="2.80" rx="1.40" opacity="0.95"/><rect x="14.50" y="4.94" width="14.50" height="2.80" rx="1.40" opacity="0.95"/><rect x="29.00" y="4.94" width="14.50" height="2.80" rx="1.40" opacity="0.95"/><rect x="43.50" y="4.94" width="14.50" height="2.80" rx="1.40" opacity="0.97"/><rect x="58.00" y="4.94" width="14.50" height="2.80" rx="1.40" opacity="0.95"/><rect x="72.50" y="4.94" width="14.50" height="2.80" rx="1.40" opacity="0.95"/></g>
</svg>
<rect x="101.50" y="621.80" width="87.00" height="9.90" fill="none" stroke="#000" stroke-width="1.1"/>
<text x="96.80" y="629.55" font-size="8" text-anchor="end" font-weight="normal" fill="#1a1a1a" stroke="#1a1a1a" >S6</text>
<svg x="101.50" y="633.60" width="87.00" height="9.90">
<rect x="0" y="0" width="87.00" height="9.90" fill="#e7e7e7"/>
<g filter="url(#b2)" fill="#0a0a0a"><rect x="0.72" y="2.45" width="13.05" height="5.00" rx="1.60" opacity="0.21"/><rect x="29.73" y="2.45" width="13.05" height="5.00" rx="1.60" opacity="0.09"/><rect x="44.23" y="2.45" width="13.05" height="5.00" rx="1.60" opacity="0.09"/><rect x="58.73" y="2.45" width="13.05" height="5.00" rx="1.60" opacity="0.16"/><rect x="73.22" y="2.45" width="13.05" height="5.00" rx="1.60" opacity="0.13"/></g>
<g filter="url(#b15)" fill="#0a0a0a"><rect x="15.08" y="1.45" width="13.34" height="7.00" rx="1.60" opacity="1.00"/></g>
</svg>
<rect x="101.50" y="633.60" width="87.00" height="9.90" fill="none" stroke="#000" stroke-width="1.1"/>
<text x="96.80" y="641.35" font-size="8" text-anchor="end" font-weight="normal" fill="#1a1a1a" stroke="#1a1a1a" >Bim</text>
<svg x="101.50" y="645.50" width="87.00" height="9.90">
<rect x="0" y="0" width="87.00" height="9.90" fill="#f4f4f4"/>
<g filter="url(#b15)" fill="#0a0a0a"><rect x="0.72" y="3.95" width="13.05" height="2.40" rx="1.20" opacity="0.94"/><rect x="15.22" y="3.95" width="13.05" height="2.40" rx="1.20" opacity="0.91"/><rect x="29.73" y="3.95" width="13.05" height="2.40" rx="1.20" opacity="0.91"/><rect x="44.23" y="3.95" width="13.05" height="2.40" rx="1.20" opacity="0.87"/><rect x="58.36" y="3.55" width="13.77" height="3.20" rx="1.60" opacity="1.00"/><rect x="72.86" y="3.55" width="13.77" height="3.20" rx="1.60" opacity="0.97"/></g>
</svg>
<rect x="101.50" y="645.50" width="87.00" height="9.90" fill="none" stroke="#000" stroke-width="1.1"/>
<text x="96.80" y="653.25" font-size="8" text-anchor="end" font-weight="normal" fill="#1a1a1a" stroke="#1a1a1a" >β-Actin</text>
</g>
<g id="panelE">
<text x="285.90" y="360.50" font-size="10.2" text-anchor="start" font-weight="bold" fill="#000" stroke="#000"  stroke-width="0.15">E</text>
<g>
<text x="304.40" y="361.90" font-size="8" text-anchor="start" font-weight="normal" fill="#1a1a1a" stroke="#1a1a1a" >Ba/F3 FGFR2::BICC1 pemigatinib</text>
<path d="M320.20 366.74V437.80H411.00" fill="none" stroke="#45459a" stroke-width="0.9"/>
<text x="317.20" y="440.30" font-size="8" text-anchor="end" font-weight="normal" fill="#16162c" stroke="#16162c" >0</text>
<text x="317.20" y="408.00" font-size="8" text-anchor="end" font-weight="normal" fill="#16162c" stroke="#16162c" >50</text>
<text x="319.30" y="375.70" font-size="8" text-anchor="end" font-weight="normal" fill="#16162c" stroke="#16162c" textLength="10.6" lengthAdjust="spacingAndGlyphs">100</text>
<path d="M322.40 436.60v2.4M324.40 436.60v2.4M328.40 436.60v2.4M330.20 436.60v2.4" stroke="#45459a" stroke-width="0.6"/>
<text x="320.40" y="447.70" font-size="8" text-anchor="middle" font-weight="normal" fill="#16162c" stroke="#16162c" >0</text>
<text x="332.00" y="447.70" font-size="8" text-anchor="middle" font-weight="normal" fill="#16162c" stroke="#16162c" textLength="11.7" lengthAdjust="spacingAndGlyphs">0.01</text>
<text x="349.20" y="447.70" font-size="8" text-anchor="middle" font-weight="normal" fill="#16162c" stroke="#16162c" textLength="8.9" lengthAdjust="spacingAndGlyphs">0.1</text>
<text x="366.40" y="447.70" font-size="8" text-anchor="middle" font-weight="normal" fill="#16162c" stroke="#16162c" >1</text>
<text x="383.60" y="447.70" font-size="8" text-anchor="middle" font-weight="normal" fill="#16162c" stroke="#16162c" textLength="7.8" lengthAdjust="spacingAndGlyphs">10</text>
<text x="400.80" y="447.70" font-size="8" text-anchor="middle" font-weight="normal" fill="#16162c" stroke="#16162c" textLength="12.4" lengthAdjust="spacingAndGlyphs">100</text>
<text x="315.20" y="459.20" font-size="8" text-anchor="start" font-weight="normal" fill="#1a1a1a" stroke="#1a1a1a" >Drug concentration (nmol/L)</text>
<text transform="translate(301.10 406.50) rotate(-90)" font-size="8" text-anchor="middle" fill="#1a1a1a" stroke="#1a1a1a">% Cell viability</text>
<path d="M328.00 375.04 L328.91 375.06 L329.82 375.09 L330.72 375.12 L331.63 375.16 L332.54 375.20 L333.45 375.24 L334.36 375.29 L335.26 375.35 L336.17 375.41 L337.08 375.48 L337.99 375.55 L338.90 375.63 L339.80 375.73 L340.71 375.83 L341.62 375.95 L342.53 376.07 L343.44 376.22 L344.34 376.37 L345.25 376.55 L346.16 376.74 L347.07 376.96 L347.98 377.19 L348.88 377.45 L349.79 377.74 L350.70 378.06 L351.61 378.41 L352.52 378.80 L353.42 379.22 L354.33 379.69 L355.24 380.20 L356.15 380.75 L357.06 381.36 L357.96 382.02 L358.87 382.73 L359.78 383.51 L360.69 384.34 L361.60 385.24 L362.50 386.20 L363.41 387.22 L364.32 388.31 L365.23 389.46 L366.14 390.67 L367.04 391.94 L367.95 393.27 L368.86 394.65 L369.77 396.07 L370.68 397.52 L371.58 399.01 L372.49 400.52 L373.40 402.05 L374.31 403.58 L375.22 405.10 L376.12 406.61 L377.03 408.09 L377.94 409.55 L378.85 410.97 L379.76 412.34 L380.66 413.66 L381.57 414.93 L382.48 416.14 L383.39 417.28 L384.29 418.37 L385.20 419.39 L386.11 420.34 L387.02 421.23 L387.93 422.06 L388.83 422.83 L389.74 423.54 L390.65 424.20 L391.56 424.80 L392.47 425.35 L393.37 425.86 L394.28 426.32 L395.19 426.74 L396.10 427.12 L397.01 427.47 L397.91 427.79 L398.82 428.08 L399.73 428.34 L400.64 428.57 L401.55 428.78 L402.45 428.97 L403.36 429.15 L404.27 429.30 L405.18 429.45 L406.09 429.57 L406.99 429.69 L407.90 429.79 L408.81 429.88 L409.72 429.96" fill="none" stroke="#111111" stroke-width="0.9" stroke-linecap="round"/>
<rect x="339.31" y="374.87" width="1.8" height="1.8" fill="#111111"/>
<rect x="348.30" y="375.36" width="1.8" height="1.8" fill="#111111"/>
<rect x="356.51" y="381.36" width="1.8" height="1.8" fill="#111111"/>
<rect x="365.50" y="392.72" width="1.8" height="1.8" fill="#111111"/>
<rect x="373.71" y="401.89" width="1.8" height="1.8" fill="#111111"/>
<rect x="382.70" y="416.64" width="1.8" height="1.8" fill="#111111"/>
<rect x="390.91" y="424.05" width="1.8" height="1.8" fill="#111111"/>
<rect x="399.90" y="427.71" width="1.8" height="1.8" fill="#111111"/>
<rect x="408.11" y="428.35" width="1.8" height="1.8" fill="#111111"/>
<path d="M340.21 372.57V378.97M339.11 372.57h2.2M339.11 378.97h2.2M349.20 373.86V378.66M348.10 373.86h2.2M348.10 378.66h2.2M357.41 380.76V383.76M356.31 380.76h2.2M356.31 383.76h2.2M366.40 390.82V396.42M365.30 390.82h2.2M365.30 396.42h2.2M374.61 401.79V403.79M373.51 401.79h2.2M373.51 403.79h2.2M383.60 416.94V418.14M382.50 416.94h2.2M382.50 418.14h2.2M391.81 424.45V425.45M390.71 424.45h2.2M390.71 425.45h2.2M400.80 428.21V429.01M399.70 428.21h2.2M399.70 429.01h2.2M409.01 428.85V429.65M407.91 428.85h2.2M407.91 429.65h2.2" stroke="#111111" stroke-width="0.6" fill="none"/>
<rect x="319.30" y="381.34" width="1.8" height="1.8" fill="#111111"/>
<path d="M320.20 379.64V384.84M319.10 379.64h2.2M319.10 384.84h2.2" stroke="#111111" stroke-width="0.6" fill="none"/>
<path d="M328.00 374.82 L328.91 374.83 L329.82 374.83 L330.72 374.83 L331.63 374.83 L332.54 374.83 L333.45 374.84 L334.36 374.84 L335.26 374.84 L336.17 374.85 L337.08 374.85 L337.99 374.86 L338.90 374.86 L339.80 374.87 L340.71 374.88 L341.62 374.89 L342.53 374.90 L343.44 374.91 L344.34 374.93 L345.25 374.94 L346.16 374.96 L347.07 374.98 L347.98 375.01 L348.88 375.04 L349.79 375.07 L350.70 375.11 L351.61 375.15 L352.52 375.20 L353.42 375.26 L354.33 375.33 L355.24 375.40 L356.15 375.49 L357.06 375.59 L357.96 375.71 L358.87 375.84 L359.78 375.99 L360.69 376.16 L361.60 376.35 L362.50 376.58 L363.41 376.83 L364.32 377.12 L365.23 377.45 L366.14 377.82 L367.04 378.24 L367.95 378.72 L368.86 379.25 L369.77 379.85 L370.68 380.53 L371.58 381.28 L372.49 382.11 L373.40 383.03 L374.31 384.05 L375.22 385.16 L376.12 386.37 L377.03 387.68 L377.94 389.08 L378.85 390.58 L379.76 392.16 L380.66 393.82 L381.57 395.54 L382.48 397.31 L383.39 399.12 L384.29 400.94 L385.20 402.77 L386.11 404.58 L387.02 406.35 L387.93 408.08 L388.83 409.74 L389.74 411.32 L390.65 412.82 L391.56 414.23 L392.47 415.54 L393.37 416.75 L394.28 417.87 L395.19 418.88 L396.10 419.81 L397.01 420.65 L397.91 421.40 L398.82 422.08 L399.73 422.68 L400.64 423.22 L401.55 423.70 L402.45 424.12 L403.36 424.50 L404.27 424.83 L405.18 425.12 L406.09 425.37 L406.99 425.60 L407.90 425.79 L408.81 425.96 L409.72 426.11" fill="none" stroke="#e8202a" stroke-width="0.9" stroke-linecap="round"/>
<rect x="339.31" y="372.68" width="1.8" height="1.8" fill="#e8202a"/>
<rect x="348.30" y="375.44" width="1.8" height="1.8" fill="#e8202a"/>
<rect x="356.51" y="374.73" width="1.8" height="1.8" fill="#e8202a"/>
<rect x="365.50" y="375.74" width="1.8" height="1.8" fill="#e8202a"/>
<rect x="373.71" y="381.57" width="1.8" height="1.8" fill="#e8202a"/>
<rect x="382.70" y="397.35" width="1.8" height="1.8" fill="#e8202a"/>
<rect x="390.91" y="411.11" width="1.8" height="1.8" fill="#e8202a"/>
<rect x="399.90" y="421.12" width="1.8" height="1.8" fill="#e8202a"/>
<rect x="408.11" y="423.81" width="1.8" height="1.8" fill="#e8202a"/>
<path d="M340.21 368.58V378.58M339.11 368.58h2.2M339.11 378.58h2.2M349.20 373.14V379.54M348.10 373.14h2.2M348.10 379.54h2.2M357.41 373.43V377.83M356.31 373.43h2.2M356.31 377.83h2.2M366.40 373.64V379.64M365.30 373.64h2.2M365.30 379.64h2.2M374.61 380.47V384.47M373.51 380.47h2.2M373.51 384.47h2.2M383.60 396.05V400.45M382.50 396.05h2.2M382.50 400.45h2.2M391.81 410.81V413.21M390.71 410.81h2.2M390.71 413.21h2.2M400.80 421.22V422.82M399.70 421.22h2.2M399.70 422.82h2.2M409.01 424.11V425.31M407.91 424.11h2.2M407.91 425.31h2.2" stroke="#e8202a" stroke-width="0.6" fill="none"/>
<rect x="319.30" y="374.24" width="1.8" height="1.8" fill="#e8202a"/>
<path d="M320.20 372.54V377.74M319.10 372.54h2.2M319.10 377.74h2.2" stroke="#e8202a" stroke-width="0.6" fill="none"/>
<path d="M413.40 376.00h4.6" stroke="#111111" stroke-width="0.7"/>
<rect x="414.70" y="375.00" width="2.0" height="2.0" fill="#111111"/>
<text x="421.60" y="378.90" font-size="8" text-anchor="start" font-weight="normal" fill="#24247e" stroke="#24247e" >WT</text>
<path d="M413.40 384.60h4.6" stroke="#e8202a" stroke-width="0.7"/>
<rect x="414.70" y="383.60" width="2.0" height="2.0" fill="#e8202a"/>
<text x="421.60" y="387.50" font-size="8" text-anchor="start" font-weight="normal" fill="#24247e" stroke="#24247e" >L551F</text>
</g>
<g>
<text x="313.80" y="476.80" font-size="8" text-anchor="start" font-weight="normal" fill="#1a1a1a" stroke="#1a1a1a" >Ba/F3 FGFR2::BICC1 L551F</text>
<path d="M322.00 480.03V547.90H415.00" fill="none" stroke="#45459a" stroke-width="0.9"/>
<text x="317.10" y="550.40" font-size="8" text-anchor="end" font-weight="normal" fill="#16162c" stroke="#16162c" >0</text>
<text x="317.10" y="519.55" font-size="8" text-anchor="end" font-weight="normal" fill="#16162c" stroke="#16162c" >50</text>
<text x="320.50" y="488.70" font-size="8" text-anchor="end" font-weight="normal" fill="#16162c" stroke="#16162c" textLength="13.6" lengthAdjust="spacingAndGlyphs">100</text>
<path d="M324.20 546.70v2.4M326.20 546.70v2.4M330.20 546.70v2.4M332.00 546.70v2.4" stroke="#45459a" stroke-width="0.6"/>
<text x="322.20" y="556.80" font-size="8" text-anchor="middle" font-weight="normal" fill="#16162c" stroke="#16162c" >0</text>
<text x="334.80" y="556.80" font-size="8" text-anchor="middle" font-weight="normal" fill="#16162c" stroke="#16162c" textLength="11.7" lengthAdjust="spacingAndGlyphs">0.01</text>
<text x="352.00" y="556.80" font-size="8" text-anchor="middle" font-weight="normal" fill="#16162c" stroke="#16162c" textLength="8.9" lengthAdjust="spacingAndGlyphs">0.1</text>
<text x="369.20" y="556.80" font-size="8" text-anchor="middle" font-weight="normal" fill="#16162c" stroke="#16162c" >1</text>
<text x="386.40" y="556.80" font-size="8" text-anchor="middle" font-weight="normal" fill="#16162c" stroke="#16162c" textLength="7.8" lengthAdjust="spacingAndGlyphs">10</text>
<text x="403.60" y="556.80" font-size="8" text-anchor="middle" font-weight="normal" fill="#16162c" stroke="#16162c" textLength="12.4" lengthAdjust="spacingAndGlyphs">100</text>
<text x="315.40" y="567.60" font-size="8" text-anchor="start" font-weight="normal" fill="#1a1a1a" stroke="#1a1a1a" >Drug concentration (nmol/L)</text>
<text transform="translate(301.00 518.05) rotate(-90)" font-size="8" text-anchor="middle" fill="#1a1a1a" stroke="#1a1a1a">% Cell viability</text>
<path d="M329.20 488.68 L330.13 488.68 L331.05 488.68 L331.98 488.68 L332.90 488.69 L333.83 488.69 L334.75 488.69 L335.68 488.70 L336.61 488.70 L337.53 488.70 L338.46 488.71 L339.38 488.72 L340.31 488.72 L341.23 488.73 L342.16 488.74 L343.09 488.75 L344.01 488.76 L344.94 488.77 L345.86 488.79 L346.79 488.80 L347.72 488.82 L348.64 488.84 L349.57 488.87 L350.49 488.89 L351.42 488.92 L352.34 488.96 L353.27 489.00 L354.20 489.04 L355.12 489.10 L356.05 489.16 L356.97 489.22 L357.90 489.30 L358.82 489.39 L359.75 489.48 L360.68 489.59 L361.60 489.72 L362.53 489.86 L363.45 490.02 L364.38 490.21 L365.30 490.41 L366.23 490.65 L367.16 490.91 L368.08 491.20 L369.01 491.53 L369.93 491.90 L370.86 492.32 L371.78 492.78 L372.71 493.30 L373.64 493.88 L374.56 494.51 L375.49 495.21 L376.41 495.98 L377.34 496.83 L378.27 497.75 L379.19 498.75 L380.12 499.82 L381.04 500.98 L381.97 502.21 L382.89 503.51 L383.82 504.87 L384.75 506.30 L385.67 507.78 L386.60 509.30 L387.52 510.84 L388.45 512.40 L389.37 513.97 L390.30 515.52 L391.23 517.05 L392.15 518.55 L393.08 520.00 L394.00 521.39 L394.93 522.72 L395.85 523.98 L396.78 525.17 L397.71 526.28 L398.63 527.31 L399.56 528.26 L400.48 529.13 L401.41 529.94 L402.34 530.67 L403.26 531.33 L404.19 531.93 L405.11 532.47 L406.04 532.95 L406.96 533.39 L407.89 533.78 L408.82 534.13 L409.74 534.44 L410.67 534.71 L411.59 534.96 L412.52 535.17" fill="none" stroke="#e8202a" stroke-width="0.9" stroke-linecap="round"/>
<rect x="342.11" y="484.14" width="1.8" height="1.8" fill="#e8202a"/>
<rect x="351.10" y="487.43" width="1.8" height="1.8" fill="#e8202a"/>
<rect x="359.31" y="489.87" width="1.8" height="1.8" fill="#e8202a"/>
<rect x="368.30" y="493.17" width="1.8" height="1.8" fill="#e8202a"/>
<rect x="376.51" y="494.76" width="1.8" height="1.8" fill="#e8202a"/>
<rect x="385.50" y="507.45" width="1.8" height="1.8" fill="#e8202a"/>
<rect x="393.71" y="523.22" width="1.8" height="1.8" fill="#e8202a"/>
<rect x="402.70" y="530.66" width="1.8" height="1.8" fill="#e8202a"/>
<rect x="410.91" y="532.87" width="1.8" height="1.8" fill="#e8202a"/>
<path d="M343.01 481.04V489.04M341.91 481.04h2.2M341.91 489.04h2.2M352.00 485.83V490.83M350.90 485.83h2.2M350.90 490.83h2.2M360.21 488.77V492.77M359.11 488.77h2.2M359.11 492.77h2.2M369.20 489.57V498.57M368.10 489.57h2.2M368.10 498.57h2.2M377.41 494.16V497.16M376.31 494.16h2.2M376.31 497.16h2.2M386.40 506.85V509.85M385.30 506.85h2.2M385.30 509.85h2.2M394.61 522.62V525.62M393.51 522.62h2.2M393.51 525.62h2.2M403.60 530.56V532.56M402.50 530.56h2.2M402.50 532.56h2.2M411.81 532.97V534.57M410.71 532.97h2.2M410.71 534.57h2.2" stroke="#e8202a" stroke-width="0.6" fill="none"/>
<rect x="321.10" y="487.15" width="1.8" height="1.8" fill="#e8202a"/>
<path d="M322.00 485.45V490.65M320.90 485.45h2.2M320.90 490.65h2.2" stroke="#e8202a" stroke-width="0.6" fill="none"/>
<path d="M329.20 489.47 L330.13 489.48 L331.05 489.49 L331.98 489.50 L332.90 489.51 L333.83 489.53 L334.75 489.55 L335.68 489.57 L336.61 489.59 L337.53 489.62 L338.46 489.65 L339.38 489.68 L340.31 489.72 L341.23 489.77 L342.16 489.82 L343.09 489.88 L344.01 489.94 L344.94 490.02 L345.86 490.11 L346.79 490.21 L347.72 490.32 L348.64 490.46 L349.57 490.60 L350.49 490.77 L351.42 490.97 L352.34 491.19 L353.27 491.43 L354.20 491.72 L355.12 492.03 L356.05 492.39 L356.97 492.80 L357.90 493.25 L358.82 493.76 L359.75 494.33 L360.68 494.97 L361.60 495.67 L362.53 496.45 L363.45 497.31 L364.38 498.25 L365.30 499.27 L366.23 500.38 L367.16 501.57 L368.08 502.84 L369.01 504.19 L369.93 505.61 L370.86 507.10 L371.78 508.63 L372.71 510.21 L373.64 511.81 L374.56 513.42 L375.49 515.03 L376.41 516.63 L377.34 518.19 L378.27 519.70 L379.19 521.16 L380.12 522.56 L381.04 523.88 L381.97 525.12 L382.89 526.27 L383.82 527.35 L384.75 528.34 L385.67 529.24 L386.60 530.07 L387.52 530.82 L388.45 531.49 L389.37 532.10 L390.30 532.65 L391.23 533.14 L392.15 533.57 L393.08 533.96 L394.00 534.30 L394.93 534.60 L395.85 534.87 L396.78 535.11 L397.71 535.32 L398.63 535.50 L399.56 535.66 L400.48 535.80 L401.41 535.93 L402.34 536.03 L403.26 536.13 L404.19 536.21 L405.11 536.29 L406.04 536.35 L406.96 536.41 L407.89 536.46 L408.82 536.50 L409.74 536.54 L410.67 536.57 L411.59 536.60 L412.52 536.62" fill="none" stroke="#6fa8ee" stroke-width="0.9" stroke-linecap="round"/>
<rect x="342.11" y="488.35" width="1.8" height="1.8" fill="#6fa8ee"/>
<rect x="351.10" y="493.90" width="1.8" height="1.8" fill="#6fa8ee"/>
<rect x="359.31" y="492.50" width="1.8" height="1.8" fill="#6fa8ee"/>
<rect x="368.30" y="505.43" width="1.8" height="1.8" fill="#6fa8ee"/>
<rect x="376.51" y="515.55" width="1.8" height="1.8" fill="#6fa8ee"/>
<rect x="385.50" y="530.23" width="1.8" height="1.8" fill="#6fa8ee"/>
<rect x="393.71" y="532.98" width="1.8" height="1.8" fill="#6fa8ee"/>
<rect x="402.70" y="535.26" width="1.8" height="1.8" fill="#6fa8ee"/>
<rect x="410.91" y="535.09" width="1.8" height="1.8" fill="#6fa8ee"/>
<path d="M343.01 484.75V493.75M341.91 484.75h2.2M341.91 493.75h2.2M352.00 491.80V497.80M350.90 491.80h2.2M350.90 497.80h2.2M360.21 490.90V495.90M359.11 490.90h2.2M359.11 495.90h2.2M369.20 503.83V508.83M368.10 503.83h2.2M368.10 508.83h2.2M377.41 514.45V518.45M376.31 514.45h2.2M376.31 518.45h2.2M386.40 529.63V532.63M385.30 529.63h2.2M385.30 532.63h2.2M394.61 532.68V535.08M393.51 532.68h2.2M393.51 535.08h2.2M403.60 535.16V537.16M402.50 535.16h2.2M402.50 537.16h2.2M411.81 535.19V536.79M410.71 535.19h2.2M410.71 536.79h2.2" stroke="#6fa8ee" stroke-width="0.6" fill="none"/>
<rect x="321.10" y="487.77" width="1.8" height="1.8" fill="#6fa8ee"/>
<path d="M322.00 486.07V491.27M320.90 486.07h2.2M320.90 491.27h2.2" stroke="#6fa8ee" stroke-width="0.6" fill="none"/>
<path d="M329.20 487.81 L330.13 487.82 L331.05 487.84 L331.98 487.85 L332.90 487.86 L333.83 487.88 L334.75 487.90 L335.68 487.93 L336.61 487.95 L337.53 487.98 L338.46 488.02 L339.38 488.06 L340.31 488.10 L341.23 488.16 L342.16 488.22 L343.09 488.29 L344.01 488.36 L344.94 488.45 L345.86 488.56 L346.79 488.67 L347.72 488.80 L348.64 488.96 L349.57 489.13 L350.49 489.32 L351.42 489.55 L352.34 489.80 L353.27 490.09 L354.20 490.41 L355.12 490.77 L356.05 491.19 L356.97 491.65 L357.90 492.17 L358.82 492.75 L359.75 493.40 L360.68 494.11 L361.60 494.91 L362.53 495.78 L363.45 496.74 L364.38 497.79 L365.30 498.92 L366.23 500.14 L367.16 501.45 L368.08 502.83 L369.01 504.29 L369.93 505.82 L370.86 507.40 L371.78 509.03 L372.71 510.68 L373.64 512.35 L374.56 514.02 L375.49 515.67 L376.41 517.29 L377.34 518.87 L378.27 520.39 L379.19 521.84 L380.12 523.22 L381.04 524.52 L381.97 525.73 L382.89 526.86 L383.82 527.89 L384.75 528.84 L385.67 529.71 L386.60 530.50 L387.52 531.21 L388.45 531.85 L389.37 532.42 L390.30 532.94 L391.23 533.39 L392.15 533.80 L393.08 534.16 L394.00 534.48 L394.93 534.76 L395.85 535.01 L396.78 535.23 L397.71 535.43 L398.63 535.60 L399.56 535.75 L400.48 535.88 L401.41 535.99 L402.34 536.09 L403.26 536.18 L404.19 536.26 L405.11 536.33 L406.04 536.38 L406.96 536.44 L407.89 536.48 L408.82 536.52 L409.74 536.56 L410.67 536.59 L411.59 536.61 L412.52 536.64" fill="none" stroke="#2236c4" stroke-width="0.9" stroke-linecap="round"/>
<rect x="342.11" y="485.53" width="1.8" height="1.8" fill="#2236c4"/>
<rect x="351.10" y="496.82" width="1.8" height="1.8" fill="#2236c4"/>
<rect x="359.31" y="497.78" width="1.8" height="1.8" fill="#2236c4"/>
<rect x="368.30" y="504.94" width="1.8" height="1.8" fill="#2236c4"/>
<rect x="376.51" y="516.85" width="1.8" height="1.8" fill="#2236c4"/>
<rect x="385.50" y="528.82" width="1.8" height="1.8" fill="#2236c4"/>
<rect x="393.71" y="532.53" width="1.8" height="1.8" fill="#2236c4"/>
<rect x="402.70" y="533.46" width="1.8" height="1.8" fill="#2236c4"/>
<rect x="410.91" y="535.72" width="1.8" height="1.8" fill="#2236c4"/>
<path d="M343.01 482.93V489.93M341.91 482.93h2.2M341.91 489.93h2.2M352.00 494.72V500.72M350.90 494.72h2.2M350.90 500.72h2.2M360.21 496.68V500.68M359.11 496.68h2.2M359.11 500.68h2.2M369.20 503.84V507.84M368.10 503.84h2.2M368.10 507.84h2.2M377.41 515.75V519.75M376.31 515.75h2.2M376.31 519.75h2.2M386.40 528.22V531.22M385.30 528.22h2.2M385.30 531.22h2.2M394.61 532.23V534.63M393.51 532.23h2.2M393.51 534.63h2.2M403.60 533.36V535.36M402.50 533.36h2.2M402.50 535.36h2.2M411.81 535.82V537.42M410.71 535.82h2.2M410.71 537.42h2.2" stroke="#2236c4" stroke-width="0.6" fill="none"/>
<rect x="321.10" y="485.30" width="1.8" height="1.8" fill="#2236c4"/>
<path d="M322.00 483.60V488.80M320.90 483.60h2.2M320.90 488.80h2.2" stroke="#2236c4" stroke-width="0.6" fill="none"/>
<path d="M413.40 488.80h4.6" stroke="#6fa8ee" stroke-width="0.7"/>
<rect x="414.70" y="487.80" width="2.0" height="2.0" fill="#6fa8ee"/>
<text x="421.60" y="491.70" font-size="8" text-anchor="start" font-weight="normal" fill="#24247e" stroke="#24247e" >Erdafitinib</text>
<path d="M413.40 497.05h4.6" stroke="#2236c4" stroke-width="0.7"/>
<rect x="414.70" y="496.05" width="2.0" height="2.0" fill="#2236c4"/>
<text x="421.60" y="499.95" font-size="8" text-anchor="start" font-weight="normal" fill="#24247e" stroke="#24247e" >Futibatinib</text>
<path d="M413.40 505.30h4.6" stroke="#e8202a" stroke-width="0.7"/>
<rect x="414.70" y="504.30" width="2.0" height="2.0" fill="#e8202a"/>
<text x="421.60" y="508.20" font-size="8" text-anchor="start" font-weight="normal" fill="#24247e" stroke="#24247e" >Pemigatinib</text>
</g>
</g>
<g id="panelF">
<text x="210.00" y="589.60" font-size="10.2" text-anchor="start" font-weight="bold" fill="#000" stroke="#000"  stroke-width="0.15">F</text>
<rect x="235.50" y="621.50" width="33.00" height="16.00" fill="#dbe8f5"/>
<rect x="268.50" y="621.50" width="33.00" height="16.00" fill="#dbe8f5"/>
<rect x="301.50" y="621.50" width="34.00" height="16.00" fill="#dbe8f5"/>
<rect x="335.50" y="621.50" width="37.00" height="16.00" fill="#dbe8f5"/>
<rect x="372.50" y="621.50" width="35.00" height="16.00" fill="#1567c0"/>
<rect x="407.50" y="621.50" width="39.00" height="16.00" fill="#1567c0"/>
<rect x="446.50" y="621.50" width="31.00" height="16.00" fill="#189ee8"/>
<rect x="477.50" y="621.50" width="35.00" height="16.00" fill="#1567c0"/>
<rect x="235.50" y="637.50" width="33.00" height="16.00" fill="#dbe8f5"/>
<rect x="268.50" y="637.50" width="33.00" height="16.00" fill="#1567c0"/>
<rect x="301.50" y="637.50" width="34.00" height="16.00" fill="#dbe8f5"/>
<rect x="335.50" y="637.50" width="37.00" height="16.00" fill="#189ee8"/>
<rect x="372.50" y="637.50" width="35.00" height="16.00" fill="#1567c0"/>
<rect x="407.50" y="637.50" width="39.00" height="16.00" fill="#1567c0"/>
<rect x="446.50" y="637.50" width="31.00" height="16.00" fill="#1567c0"/>
<rect x="477.50" y="637.50" width="35.00" height="16.00" fill="#1567c0"/>
<path d="M235.5 588.5H512.5V653.5H208.5V621.5H512.5M235.5 588.5V653.5M235.5 603.5H512.5M208.5 637.5H512.5M268.5 603.5V653.5M301.5 603.5V653.5M335.5 603.5V653.5M372.5 603.5V653.5M407.5 603.5V653.5M446.5 603.5V653.5M477.5 603.5V653.5" fill="none" stroke="#0a0a0a" stroke-width="1.15"/>
<text x="374.00" y="598.50" font-size="8" text-anchor="middle" fill="#1a1a1a" stroke="#1a1a1a">FGFR2::BICC1 IC<tspan font-size="5.6" dy="1.6">50</tspan><tspan dy="-1.6"> (nmol/L)</tspan></text>
<text x="252.00" y="614.00" font-size="6.0" text-anchor="middle" font-weight="normal" fill="#1a1a1a" stroke="#1a1a1a" stroke-width="0.05">Erdafitinib</text>
<text x="285.00" y="614.00" font-size="6.0" text-anchor="middle" font-weight="normal" fill="#1a1a1a" stroke="#1a1a1a" stroke-width="0.05">Infigratinib</text>
<text x="318.50" y="614.00" font-size="6.0" text-anchor="middle" font-weight="normal" fill="#1a1a1a" stroke="#1a1a1a" stroke-width="0.05">Futibatinib</text>
<text x="354.00" y="614.00" font-size="6.0" text-anchor="middle" font-weight="normal" fill="#1a1a1a" stroke="#1a1a1a" stroke-width="0.05">Pemigatinib</text>
<text x="390.00" y="614.00" font-size="6.0" text-anchor="middle" font-weight="normal" fill="#1a1a1a" stroke="#1a1a1a" stroke-width="0.05">Rogaratinib</text>
<text x="427.00" y="614.00" font-size="6.0" text-anchor="middle" font-weight="normal" fill="#1a1a1a" stroke="#1a1a1a" stroke-width="0.05">Derazantinib</text>
<text x="462.00" y="614.00" font-size="6.0" text-anchor="middle" font-weight="normal" fill="#1a1a1a" stroke="#1a1a1a" stroke-width="0.05">AZD4547</text>
<text x="495.00" y="614.00" font-size="6.0" text-anchor="middle" font-weight="normal" fill="#1a1a1a" stroke="#1a1a1a" stroke-width="0.05">Zoligratinib</text>
<text x="222.00" y="632.10" font-size="8" text-anchor="middle" font-weight="normal" fill="#1a1a1a" stroke="#1a1a1a" >WT</text>
<text x="222.00" y="648.70" font-size="8" text-anchor="middle" font-weight="normal" fill="#1a1a1a" stroke="#1a1a1a" >L551F</text>
<text x="252.00" y="632.40" font-size="8" text-anchor="middle" font-weight="normal" fill="#1a1a1a" stroke="#1a1a1a" >0.1</text>
<text x="285.00" y="632.40" font-size="8" text-anchor="middle" font-weight="normal" fill="#1a1a1a" stroke="#1a1a1a" >0.4</text>
<text x="318.50" y="632.40" font-size="8" text-anchor="middle" font-weight="normal" fill="#1a1a1a" stroke="#1a1a1a" >0.5</text>
<text x="354.00" y="632.40" font-size="8" text-anchor="middle" font-weight="normal" fill="#1a1a1a" stroke="#1a1a1a" >3.5</text>
<text x="390.00" y="632.40" font-size="8" text-anchor="middle" font-weight="normal" fill="#ffffff" stroke="#ffffff" >24.5</text>
<text x="427.00" y="632.40" font-size="8" text-anchor="middle" font-weight="normal" fill="#ffffff" stroke="#ffffff" >52.1</text>
<text x="462.00" y="632.40" font-size="8" text-anchor="middle" font-weight="normal" fill="#123a6a" stroke="#123a6a" >5</text>
<text x="495.00" y="632.40" font-size="8" text-anchor="middle" font-weight="normal" fill="#ffffff" stroke="#ffffff" >65.4</text>
<text x="252.00" y="648.40" font-size="8" text-anchor="middle" font-weight="normal" fill="#1a1a1a" stroke="#1a1a1a" >1.6</text>
<text x="285.00" y="648.40" font-size="8" text-anchor="middle" font-weight="normal" fill="#ffffff" stroke="#ffffff" >20.5</text>
<text x="318.50" y="648.40" font-size="8" text-anchor="middle" font-weight="normal" fill="#1a1a1a" stroke="#1a1a1a" >2</text>
<text x="354.00" y="648.40" font-size="8" text-anchor="middle" font-weight="normal" fill="#ffffff" stroke="#ffffff" >15</text>
<text x="390.00" y="648.40" font-size="8" text-anchor="middle" font-weight="normal" fill="#ffffff" stroke="#ffffff" >287.3</text>
<text x="427.00" y="648.40" font-size="8" text-anchor="middle" font-weight="normal" fill="#ffffff" stroke="#ffffff" >227.5</text>
<text x="462.00" y="648.40" font-size="8" text-anchor="middle" font-weight="normal" fill="#ffffff" stroke="#ffffff" >47.6</text>
<text x="495.00" y="648.40" font-size="8" text-anchor="middle" font-weight="normal" fill="#ffffff" stroke="#ffffff" >89.8</text>
</g>
</svg>
</body>
</html>
